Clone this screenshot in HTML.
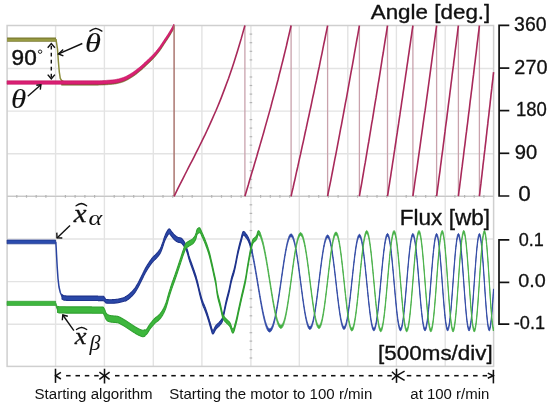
<!DOCTYPE html>
<html><head><meta charset="utf-8"><title>Angle and flux</title>
<style>html,body{margin:0;padding:0;background:#fff;overflow:hidden}svg{display:block}</style>
</head><body>
<svg width="550" height="404" viewBox="0 0 550 404">
<rect width="550" height="404" fill="#fff"/>
<g stroke="#e3e3e3" stroke-width="1.4"><line x1="55.6" y1="25.5" x2="55.6" y2="366.4"/><line x1="104.4" y1="25.5" x2="104.4" y2="366.4"/><line x1="153.3" y1="25.5" x2="153.3" y2="366.4"/><line x1="201.9" y1="25.5" x2="201.9" y2="366.4"/><line x1="250.9" y1="25.5" x2="250.9" y2="366.4"/><line x1="299.3" y1="25.5" x2="299.3" y2="366.4"/><line x1="347.8" y1="25.5" x2="347.8" y2="366.4"/><line x1="396.4" y1="25.5" x2="396.4" y2="366.4"/><line x1="445.2" y1="25.5" x2="445.2" y2="366.4"/><line x1="7.1" y1="68.5" x2="493.6" y2="68.5"/><line x1="7.1" y1="111.1" x2="493.6" y2="111.1"/><line x1="7.1" y1="153.7" x2="493.6" y2="153.7"/><line x1="7.1" y1="196.3" x2="493.6" y2="196.3"/><line x1="7.1" y1="239.0" x2="493.6" y2="239.0"/><line x1="7.1" y1="281.6" x2="493.6" y2="281.6"/><line x1="7.1" y1="324.3" x2="493.6" y2="324.3"/></g>
<rect x="7.1" y="25.5" width="486.5" height="340.9" fill="none" stroke="#cfcfcf" stroke-width="1.5"/>
<line x1="7.1" y1="196.4" x2="493.6" y2="196.4" stroke="#c8c8c8" stroke-width="1.3"/>
<g stroke="#b4b4b4" stroke-width="1.2"><line x1="16.8" y1="195.1" x2="16.8" y2="197.7"/><line x1="26.5" y1="195.1" x2="26.5" y2="197.7"/><line x1="36.2" y1="195.1" x2="36.2" y2="197.7"/><line x1="45.9" y1="195.1" x2="45.9" y2="197.7"/><line x1="65.4" y1="195.1" x2="65.4" y2="197.7"/><line x1="75.1" y1="195.1" x2="75.1" y2="197.7"/><line x1="84.9" y1="195.1" x2="84.9" y2="197.7"/><line x1="94.6" y1="195.1" x2="94.6" y2="197.7"/><line x1="114.2" y1="195.1" x2="114.2" y2="197.7"/><line x1="124.0" y1="195.1" x2="124.0" y2="197.7"/><line x1="133.7" y1="195.1" x2="133.7" y2="197.7"/><line x1="143.5" y1="195.1" x2="143.5" y2="197.7"/><line x1="163.0" y1="195.1" x2="163.0" y2="197.7"/><line x1="172.7" y1="195.1" x2="172.7" y2="197.7"/><line x1="182.5" y1="195.1" x2="182.5" y2="197.7"/><line x1="192.2" y1="195.1" x2="192.2" y2="197.7"/><line x1="211.7" y1="195.1" x2="211.7" y2="197.7"/><line x1="221.5" y1="195.1" x2="221.5" y2="197.7"/><line x1="231.3" y1="195.1" x2="231.3" y2="197.7"/><line x1="241.1" y1="195.1" x2="241.1" y2="197.7"/><line x1="260.6" y1="195.1" x2="260.6" y2="197.7"/><line x1="270.3" y1="195.1" x2="270.3" y2="197.7"/><line x1="279.9" y1="195.1" x2="279.9" y2="197.7"/><line x1="289.6" y1="195.1" x2="289.6" y2="197.7"/><line x1="309.0" y1="195.1" x2="309.0" y2="197.7"/><line x1="318.7" y1="195.1" x2="318.7" y2="197.7"/><line x1="328.4" y1="195.1" x2="328.4" y2="197.7"/><line x1="338.1" y1="195.1" x2="338.1" y2="197.7"/><line x1="357.5" y1="195.1" x2="357.5" y2="197.7"/><line x1="367.2" y1="195.1" x2="367.2" y2="197.7"/><line x1="377.0" y1="195.1" x2="377.0" y2="197.7"/><line x1="386.7" y1="195.1" x2="386.7" y2="197.7"/><line x1="406.2" y1="195.1" x2="406.2" y2="197.7"/><line x1="415.9" y1="195.1" x2="415.9" y2="197.7"/><line x1="425.7" y1="195.1" x2="425.7" y2="197.7"/><line x1="435.4" y1="195.1" x2="435.4" y2="197.7"/><line x1="454.9" y1="195.1" x2="454.9" y2="197.7"/><line x1="464.6" y1="195.1" x2="464.6" y2="197.7"/><line x1="474.2" y1="195.1" x2="474.2" y2="197.7"/><line x1="483.9" y1="195.1" x2="483.9" y2="197.7"/><line x1="249.6" y1="34.1" x2="252.2" y2="34.1"/><line x1="249.6" y1="42.7" x2="252.2" y2="42.7"/><line x1="249.6" y1="51.3" x2="252.2" y2="51.3"/><line x1="249.6" y1="59.9" x2="252.2" y2="59.9"/><line x1="249.6" y1="77.0" x2="252.2" y2="77.0"/><line x1="249.6" y1="85.5" x2="252.2" y2="85.5"/><line x1="249.6" y1="94.1" x2="252.2" y2="94.1"/><line x1="249.6" y1="102.6" x2="252.2" y2="102.6"/><line x1="249.6" y1="119.6" x2="252.2" y2="119.6"/><line x1="249.6" y1="128.1" x2="252.2" y2="128.1"/><line x1="249.6" y1="136.7" x2="252.2" y2="136.7"/><line x1="249.6" y1="145.2" x2="252.2" y2="145.2"/><line x1="249.6" y1="162.2" x2="252.2" y2="162.2"/><line x1="249.6" y1="170.7" x2="252.2" y2="170.7"/><line x1="249.6" y1="179.3" x2="252.2" y2="179.3"/><line x1="249.6" y1="187.8" x2="252.2" y2="187.8"/><line x1="249.6" y1="204.8" x2="252.2" y2="204.8"/><line x1="249.6" y1="213.4" x2="252.2" y2="213.4"/><line x1="249.6" y1="221.9" x2="252.2" y2="221.9"/><line x1="249.6" y1="230.5" x2="252.2" y2="230.5"/><line x1="249.6" y1="247.5" x2="252.2" y2="247.5"/><line x1="249.6" y1="256.0" x2="252.2" y2="256.0"/><line x1="249.6" y1="264.6" x2="252.2" y2="264.6"/><line x1="249.6" y1="273.1" x2="252.2" y2="273.1"/><line x1="249.6" y1="290.1" x2="252.2" y2="290.1"/><line x1="249.6" y1="298.7" x2="252.2" y2="298.7"/><line x1="249.6" y1="307.2" x2="252.2" y2="307.2"/><line x1="249.6" y1="315.8" x2="252.2" y2="315.8"/><line x1="249.6" y1="332.7" x2="252.2" y2="332.7"/><line x1="249.6" y1="341.1" x2="252.2" y2="341.1"/><line x1="249.6" y1="349.6" x2="252.2" y2="349.6"/><line x1="249.6" y1="358.0" x2="252.2" y2="358.0"/></g>
<line x1="7.1" y1="39.7" x2="56.0" y2="39.7" stroke="#7a7a30" stroke-width="4.2"/>
<line x1="7.1" y1="39.9" x2="56.0" y2="39.9" stroke="#979a42" stroke-width="2.2"/>
<polyline points="56.0,39.0 56.4,42.0 57.5,49.0 58.4,61.7 59.3,72.0 60.3,78.5 61.6,80.4 63.5,81.6" fill="none" stroke="#8a8c3c" stroke-width="1.5"/>
<polygon points="61.5,81.8 61.9,81.8 62.3,81.8 62.7,81.8 63.1,81.8 63.5,81.8 63.9,81.8 64.3,81.8 64.7,81.8 65.1,81.8 65.5,81.8 65.9,81.8 66.3,81.8 66.7,81.8 67.1,81.8 67.5,81.8 67.9,81.8 68.3,81.8 68.7,81.8 69.1,81.8 69.5,81.8 69.9,81.8 70.3,81.8 70.7,81.8 71.1,81.8 71.5,81.8 71.9,81.8 72.3,81.8 72.7,81.8 73.1,81.8 73.5,81.8 73.9,81.8 74.3,81.8 74.7,81.8 75.1,81.8 75.5,81.8 75.9,81.8 76.3,81.8 76.7,81.8 77.1,81.8 77.5,81.8 77.9,81.8 78.3,81.8 78.7,81.8 79.1,81.8 79.5,81.8 79.9,81.8 80.3,81.8 80.7,81.8 81.1,81.8 81.5,81.8 81.9,81.8 82.3,81.8 82.7,81.8 83.1,81.8 83.5,81.8 83.9,81.8 84.3,81.8 84.7,81.8 85.1,81.8 85.5,81.8 85.9,81.8 86.3,81.8 86.7,81.8 87.1,81.8 87.5,81.8 87.9,81.8 88.3,81.8 88.7,81.8 89.1,81.8 89.5,81.8 89.9,81.8 90.3,81.8 90.7,81.8 91.1,81.8 91.5,81.8 91.9,81.8 92.3,81.8 92.7,81.8 93.1,81.8 93.5,81.8 93.9,81.8 94.3,81.8 94.7,81.8 95.1,81.8 95.5,81.8 95.9,81.8 96.3,81.8 96.7,81.8 97.1,81.8 97.5,81.8 97.9,81.8 98.3,81.8 98.7,81.7 99.1,81.7 99.5,81.7 99.9,81.7 100.3,81.7 100.7,81.7 101.1,81.7 101.5,81.6 101.9,81.6 102.3,81.6 102.7,81.6 103.1,81.6 103.5,81.5 103.9,81.5 104.3,81.5 104.7,81.5 105.1,81.5 105.5,81.4 105.9,81.4 106.3,81.4 106.7,81.3 107.1,81.3 107.5,81.3 107.9,81.3 108.3,81.2 108.7,81.2 109.1,81.2 109.5,81.1 109.9,81.1 110.3,81.1 110.7,81.0 111.1,81.0 111.5,81.0 111.9,80.9 112.3,80.9 112.7,80.8 113.1,80.8 113.5,80.8 113.9,80.7 114.3,80.7 114.7,80.6 115.1,80.6 115.5,80.5 115.9,80.4 116.3,80.3 116.7,80.3 117.1,80.2 117.5,80.1 117.9,80.0 118.3,79.9 118.7,79.8 119.1,79.7 119.5,79.6 119.9,79.5 120.3,79.4 120.7,79.3 121.1,79.2 121.5,79.0 121.9,78.9 122.3,78.8 122.7,78.7 123.1,78.5 123.5,78.4 123.9,78.2 124.3,78.1 124.7,77.9 125.1,77.7 125.5,77.5 125.9,77.3 126.3,77.1 126.7,76.9 127.1,76.7 127.5,76.5 127.9,76.3 128.3,76.0 128.7,75.8 129.1,75.6 129.5,75.3 129.9,75.1 130.3,74.9 130.7,74.6 131.1,74.4 131.5,74.1 131.9,73.9 132.3,73.6 132.7,73.4 133.1,73.1 133.5,72.8 133.9,72.6 134.3,72.3 134.7,72.0 135.1,71.7 135.5,71.4 135.9,71.1 136.3,70.8 136.7,70.5 137.1,70.2 137.5,69.8 137.9,69.5 138.3,69.2 138.7,68.9 139.1,68.6 139.5,68.2 139.9,67.9 140.3,67.6 140.7,67.2 141.1,66.9 141.5,66.5 141.9,66.2 142.3,65.8 142.7,65.5 143.1,65.1 143.5,64.7 143.9,64.3 144.3,64.0 144.7,63.6 145.1,63.2 145.5,62.8 145.9,62.5 146.3,62.1 146.7,61.7 147.1,61.4 147.5,61.0 147.9,60.6 148.3,60.2 148.7,59.9 149.1,59.5 149.5,59.1 149.9,58.7 150.3,58.3 150.7,58.0 151.1,57.6 151.5,57.2 151.9,56.8 152.3,56.4 152.7,55.9 153.1,55.5 153.5,55.1 153.9,54.7 154.3,54.2 154.7,53.8 155.1,53.3 155.5,52.9 155.9,52.4 156.3,51.9 156.7,51.4 157.1,50.9 157.5,50.4 157.9,49.9 158.3,49.4 158.7,48.9 159.1,48.4 159.5,47.9 159.9,47.3 160.3,46.8 160.7,46.2 161.1,45.6 161.5,45.0 161.9,44.4 162.3,43.8 162.7,43.2 163.1,42.5 163.5,41.9 163.9,41.3 164.3,40.7 164.7,40.1 165.1,39.5 165.5,38.9 165.9,38.3 166.3,37.7 166.7,37.1 167.1,36.5 167.5,35.9 167.9,35.3 168.3,34.7 168.7,34.1 169.1,33.4 169.5,32.8 169.9,32.1 170.3,31.5 170.7,30.8 171.1,30.1 171.5,29.4 171.9,28.7 172.3,28.0 172.7,27.3 173.1,26.6 173.5,25.8 173.9,25.1 173.9,28.5 173.5,29.2 173.1,30.0 172.7,30.7 172.3,31.4 171.9,32.1 171.5,32.8 171.1,33.5 170.7,34.2 170.3,34.9 169.9,35.5 169.5,36.2 169.1,36.8 168.7,37.5 168.3,38.1 167.9,38.7 167.5,39.3 167.1,39.9 166.7,40.5 166.3,41.1 165.9,41.7 165.5,42.3 165.1,42.9 164.7,43.5 164.3,44.1 163.9,44.7 163.5,45.3 163.1,45.9 162.7,46.6 162.3,47.2 161.9,47.8 161.5,48.4 161.1,49.0 160.7,49.6 160.3,50.2 159.9,50.7 159.5,51.3 159.1,51.8 158.7,52.3 158.3,52.8 157.9,53.3 157.5,53.8 157.1,54.3 156.7,54.8 156.3,55.3 155.9,55.8 155.5,56.3 155.1,56.7 154.7,57.2 154.3,57.6 153.9,58.1 153.5,58.5 153.1,58.9 152.7,59.3 152.3,59.8 151.9,60.2 151.5,60.6 151.1,61.0 150.7,61.4 150.3,61.7 149.9,62.1 149.5,62.5 149.1,62.9 148.7,63.3 148.3,63.6 147.9,64.0 147.5,64.4 147.1,64.8 146.7,65.1 146.3,65.5 145.9,65.9 145.5,66.2 145.1,66.6 144.7,67.0 144.3,67.4 143.9,67.7 143.5,68.1 143.1,68.5 142.7,68.9 142.3,69.2 141.9,69.6 141.5,69.9 141.1,70.3 140.7,70.6 140.3,71.0 139.9,71.3 139.5,71.6 139.1,72.0 138.7,72.3 138.3,72.6 137.9,72.9 137.5,73.2 137.1,73.6 136.7,73.9 136.3,74.2 135.9,74.5 135.5,74.8 135.1,75.1 134.7,75.4 134.3,75.7 133.9,76.0 133.5,76.2 133.1,76.5 132.7,76.8 132.3,77.0 131.9,77.3 131.5,77.5 131.1,77.8 130.7,78.0 130.3,78.3 129.9,78.5 129.5,78.7 129.1,79.0 128.7,79.2 128.3,79.4 127.9,79.7 127.5,79.9 127.1,80.1 126.7,80.3 126.3,80.5 125.9,80.7 125.5,80.9 125.1,81.1 124.7,81.3 124.3,81.5 123.9,81.6 123.5,81.8 123.1,81.9 122.7,82.1 122.3,82.2 121.9,82.3 121.5,82.4 121.1,82.6 120.7,82.7 120.3,82.8 119.9,82.9 119.5,83.0 119.1,83.1 118.7,83.2 118.3,83.3 117.9,83.4 117.5,83.5 117.1,83.6 116.7,83.7 116.3,83.7 115.9,83.8 115.5,83.9 115.1,84.0 114.7,84.0 114.3,84.1 113.9,84.1 113.5,84.2 113.1,84.2 112.7,84.2 112.3,84.3 111.9,84.3 111.5,84.4 111.1,84.4 110.7,84.4 110.3,84.5 109.9,84.5 109.5,84.5 109.1,84.6 108.7,84.6 108.3,84.6 107.9,84.7 107.5,84.7 107.1,84.7 106.7,84.7 106.3,84.8 105.9,84.8 105.5,84.8 105.1,84.9 104.7,84.9 104.3,84.9 103.9,84.9 103.5,84.9 103.1,85.0 102.7,85.0 102.3,85.0 101.9,85.0 101.5,85.0 101.1,85.1 100.7,85.1 100.3,85.1 99.9,85.1 99.5,85.1 99.1,85.1 98.7,85.1 98.3,85.2 97.9,85.2 97.5,85.2 97.1,85.2 96.7,85.2 96.3,85.2 95.9,85.2 95.5,85.2 95.1,85.2 94.7,85.2 94.3,85.2 93.9,85.2 93.5,85.2 93.1,85.2 92.7,85.2 92.3,85.2 91.9,85.2 91.5,85.2 91.1,85.2 90.7,85.2 90.3,85.2 89.9,85.2 89.5,85.2 89.1,85.2 88.7,85.2 88.3,85.2 87.9,85.2 87.5,85.2 87.1,85.2 86.7,85.2 86.3,85.2 85.9,85.2 85.5,85.2 85.1,85.2 84.7,85.2 84.3,85.2 83.9,85.2 83.5,85.2 83.1,85.2 82.7,85.2 82.3,85.2 81.9,85.2 81.5,85.2 81.1,85.2 80.7,85.2 80.3,85.2 79.9,85.2 79.5,85.2 79.1,85.2 78.7,85.2 78.3,85.2 77.9,85.2 77.5,85.2 77.1,85.2 76.7,85.2 76.3,85.2 75.9,85.2 75.5,85.2 75.1,85.2 74.7,85.2 74.3,85.2 73.9,85.2 73.5,85.2 73.1,85.2 72.7,85.2 72.3,85.2 71.9,85.2 71.5,85.2 71.1,85.2 70.7,85.2 70.3,85.2 69.9,85.2 69.5,85.2 69.1,85.2 68.7,85.2 68.3,85.2 67.9,85.2 67.5,85.2 67.1,85.2 66.7,85.2 66.3,85.2 65.9,85.2 65.5,85.2 65.1,85.2 64.7,85.2 64.3,85.2 63.9,85.2 63.5,85.2 63.1,85.2 62.7,85.2 62.3,85.2 61.9,85.2 61.5,85.2" fill="#75742e" stroke="#75742e" stroke-width="0.6"/>
<polygon points="7.1,80.8 7.5,80.8 7.9,80.8 8.3,80.8 8.7,80.8 9.1,80.8 9.5,80.8 9.9,80.8 10.3,80.8 10.7,80.8 11.1,80.8 11.5,80.8 11.9,80.8 12.3,80.8 12.7,80.8 13.1,80.8 13.5,80.8 13.9,80.8 14.3,80.8 14.7,80.8 15.1,80.8 15.5,80.8 15.9,80.8 16.3,80.8 16.7,80.8 17.1,80.8 17.5,80.8 17.9,80.8 18.3,80.8 18.7,80.8 19.1,80.8 19.5,80.8 19.9,80.8 20.3,80.8 20.7,80.8 21.1,80.8 21.5,80.8 21.9,80.8 22.3,80.8 22.7,80.8 23.1,80.8 23.5,80.8 23.9,80.8 24.3,80.8 24.7,80.8 25.1,80.8 25.5,80.8 25.9,80.8 26.3,80.8 26.7,80.8 27.1,80.8 27.5,80.8 27.9,80.8 28.3,80.8 28.7,80.8 29.1,80.8 29.5,80.8 29.9,80.8 30.3,80.8 30.7,80.8 31.1,80.8 31.5,80.8 31.9,80.8 32.3,80.8 32.7,80.8 33.1,80.8 33.5,80.8 33.9,80.8 34.3,80.8 34.7,80.8 35.1,80.8 35.5,80.8 35.9,80.8 36.3,80.8 36.7,80.8 37.1,80.8 37.5,80.8 37.9,80.8 38.3,80.8 38.7,80.8 39.1,80.8 39.5,80.8 39.9,80.8 40.3,80.8 40.7,80.8 41.1,80.8 41.5,80.8 41.9,80.8 42.3,80.8 42.7,80.8 43.1,80.8 43.5,80.8 43.9,80.8 44.3,80.8 44.7,80.8 45.1,80.8 45.5,80.8 45.9,80.8 46.3,80.8 46.7,80.8 47.1,80.8 47.5,80.8 47.9,80.8 48.3,80.8 48.7,80.8 49.1,80.8 49.5,80.8 49.9,80.8 50.3,80.8 50.7,80.8 51.1,80.8 51.5,80.8 51.9,80.8 52.3,80.8 52.7,80.8 53.1,80.8 53.5,80.8 53.9,80.8 54.3,80.8 54.7,80.8 55.1,80.8 55.5,80.8 55.9,80.8 56.3,80.8 56.7,80.8 57.1,80.8 57.5,80.8 57.9,80.8 58.3,80.8 58.7,80.8 59.1,80.8 59.5,80.8 59.9,80.8 60.3,80.8 60.7,80.8 61.1,80.8 61.5,80.8 61.9,80.8 62.3,80.8 62.7,80.8 63.1,80.8 63.5,80.8 63.9,80.8 64.3,80.8 64.7,80.8 65.1,80.8 65.5,80.8 65.9,80.8 66.3,80.8 66.7,80.8 67.1,80.8 67.5,80.8 67.9,80.8 68.3,80.8 68.7,80.8 69.1,80.8 69.5,80.8 69.9,80.8 70.3,80.8 70.7,80.8 71.1,80.8 71.5,80.8 71.9,80.8 72.3,80.8 72.7,80.8 73.1,80.8 73.5,80.8 73.9,80.8 74.3,80.8 74.7,80.8 75.1,80.8 75.5,80.8 75.9,80.8 76.3,80.8 76.7,80.8 77.1,80.8 77.5,80.8 77.9,80.8 78.3,80.8 78.7,80.8 79.1,80.8 79.5,80.8 79.9,80.8 80.3,80.8 80.7,80.8 81.1,80.8 81.5,80.8 81.9,80.8 82.3,80.8 82.7,80.8 83.1,80.8 83.5,80.8 83.9,80.8 84.3,80.8 84.7,80.8 85.1,80.8 85.5,80.8 85.9,80.8 86.3,80.8 86.7,80.8 87.1,80.8 87.5,80.8 87.9,80.8 88.3,80.8 88.7,80.8 89.1,80.8 89.5,80.8 89.9,80.8 90.3,80.8 90.7,80.8 91.1,80.8 91.5,80.8 91.9,80.8 92.3,80.8 92.7,80.8 93.1,80.8 93.5,80.8 93.9,80.8 94.3,80.8 94.7,80.8 95.1,80.8 95.5,80.8 95.9,80.8 96.3,80.8 96.7,80.8 97.1,80.8 97.5,80.8 97.9,80.8 98.3,80.8 98.7,80.8 99.1,80.8 99.5,80.8 99.9,80.8 100.3,80.7 100.7,80.7 101.1,80.7 101.5,80.7 101.9,80.7 102.3,80.7 102.7,80.6 103.1,80.6 103.5,80.6 103.9,80.6 104.3,80.6 104.7,80.5 105.1,80.5 105.5,80.5 105.9,80.5 106.3,80.4 106.7,80.4 107.1,80.4 107.5,80.3 107.9,80.3 108.3,80.3 108.7,80.2 109.1,80.2 109.5,80.2 109.9,80.1 110.3,80.1 110.7,80.1 111.1,80.0 111.5,80.0 111.9,80.0 112.3,79.9 112.7,79.9 113.1,79.9 113.5,79.8 113.9,79.8 114.3,79.7 114.7,79.7 115.1,79.6 115.5,79.5 115.9,79.5 116.3,79.4 116.7,79.3 117.1,79.2 117.5,79.1 117.9,79.1 118.3,79.0 118.7,78.9 119.1,78.8 119.5,78.7 119.9,78.5 120.3,78.4 120.7,78.3 121.1,78.2 121.5,78.1 121.9,78.0 122.3,77.8 122.7,77.7 123.1,77.6 123.5,77.4 123.9,77.3 124.3,77.1 124.7,76.9 125.1,76.8 125.5,76.6 125.9,76.4 126.3,76.2 126.7,76.0 127.1,75.8 127.5,75.5 127.9,75.3 128.3,75.1 128.7,74.9 129.1,74.6 129.5,74.4 129.9,74.2 130.3,73.9 130.7,73.7 131.1,73.4 131.5,73.2 131.9,72.9 132.3,72.7 132.7,72.4 133.1,72.2 133.5,71.9 133.9,71.6 134.3,71.3 134.7,71.0 135.1,70.7 135.5,70.4 135.9,70.1 136.3,69.8 136.7,69.5 137.1,69.2 137.5,68.9 137.9,68.6 138.3,68.3 138.7,67.9 139.1,67.6 139.5,67.3 139.9,66.9 140.3,66.6 140.7,66.3 141.1,65.9 141.5,65.6 141.9,65.2 142.3,64.9 142.7,64.5 143.1,64.1 143.5,63.8 143.9,63.4 144.3,63.0 144.7,62.6 145.1,62.3 145.5,61.9 145.9,61.5 146.3,61.1 146.7,60.8 147.1,60.4 147.5,60.0 147.9,59.7 148.3,59.3 148.7,58.9 149.1,58.5 149.5,58.2 149.9,57.8 150.3,57.4 150.7,57.0 151.1,56.6 151.5,56.2 151.9,55.8 152.3,55.4 152.7,55.0 153.1,54.6 153.5,54.1 153.9,53.7 154.3,53.3 154.7,52.8 155.1,52.4 155.5,51.9 155.9,51.4 156.3,51.0 156.7,50.5 157.1,50.0 157.5,49.5 157.9,49.0 158.3,48.5 158.7,48.0 159.1,47.4 159.5,46.9 159.9,46.4 160.3,45.8 160.7,45.2 161.1,44.6 161.5,44.0 161.9,43.4 162.3,42.8 162.7,42.2 163.1,41.6 163.5,41.0 163.9,40.4 164.3,39.8 164.7,39.1 165.1,38.6 165.5,38.0 165.9,37.4 166.3,36.8 166.7,36.2 167.1,35.6 167.5,35.0 167.9,34.4 168.3,33.8 168.7,33.1 169.1,32.5 169.5,31.8 169.9,31.2 170.3,30.5 170.7,29.8 171.1,29.2 171.5,28.5 171.9,27.8 172.3,27.1 172.7,26.3 173.1,25.6 173.5,24.9 173.9,24.1 173.9,27.6 173.5,28.4 173.1,29.1 172.7,29.8 172.3,30.6 171.9,31.3 171.5,32.0 171.1,32.7 170.7,33.3 170.3,34.0 169.9,34.7 169.5,35.3 169.1,36.0 168.7,36.6 168.3,37.3 167.9,37.9 167.5,38.5 167.1,39.1 166.7,39.7 166.3,40.3 165.9,40.9 165.5,41.5 165.1,42.1 164.7,42.6 164.3,43.3 163.9,43.9 163.5,44.5 163.1,45.1 162.7,45.7 162.3,46.3 161.9,46.9 161.5,47.5 161.1,48.1 160.7,48.7 160.3,49.3 159.9,49.9 159.5,50.4 159.1,50.9 158.7,51.5 158.3,52.0 157.9,52.5 157.5,53.0 157.1,53.5 156.7,54.0 156.3,54.5 155.9,54.9 155.5,55.4 155.1,55.9 154.7,56.3 154.3,56.8 153.9,57.2 153.5,57.6 153.1,58.1 152.7,58.5 152.3,58.9 151.9,59.3 151.5,59.7 151.1,60.1 150.7,60.5 150.3,60.9 149.9,61.3 149.5,61.7 149.1,62.0 148.7,62.4 148.3,62.8 147.9,63.2 147.5,63.5 147.1,63.9 146.7,64.3 146.3,64.6 145.9,65.0 145.5,65.4 145.1,65.8 144.7,66.1 144.3,66.5 143.9,66.9 143.5,67.3 143.1,67.6 142.7,68.0 142.3,68.4 141.9,68.7 141.5,69.1 141.1,69.4 140.7,69.8 140.3,70.1 139.9,70.4 139.5,70.8 139.1,71.1 138.7,71.4 138.3,71.8 137.9,72.1 137.5,72.4 137.1,72.7 136.7,73.0 136.3,73.3 135.9,73.6 135.5,73.9 135.1,74.2 134.7,74.5 134.3,74.8 133.9,75.1 133.5,75.4 133.1,75.7 132.7,75.9 132.3,76.2 131.9,76.4 131.5,76.7 131.1,76.9 130.7,77.2 130.3,77.4 129.9,77.7 129.5,77.9 129.1,78.1 128.7,78.4 128.3,78.6 127.9,78.8 127.5,79.0 127.1,79.3 126.7,79.5 126.3,79.7 125.9,79.9 125.5,80.1 125.1,80.3 124.7,80.4 124.3,80.6 123.9,80.8 123.5,80.9 123.1,81.1 122.7,81.2 122.3,81.3 121.9,81.5 121.5,81.6 121.1,81.7 120.7,81.8 120.3,81.9 119.9,82.0 119.5,82.2 119.1,82.3 118.7,82.4 118.3,82.5 117.9,82.6 117.5,82.6 117.1,82.7 116.7,82.8 116.3,82.9 115.9,83.0 115.5,83.0 115.1,83.1 114.7,83.2 114.3,83.2 113.9,83.3 113.5,83.3 113.1,83.4 112.7,83.4 112.3,83.4 111.9,83.5 111.5,83.5 111.1,83.5 110.7,83.6 110.3,83.6 109.9,83.6 109.5,83.7 109.1,83.7 108.7,83.7 108.3,83.8 107.9,83.8 107.5,83.8 107.1,83.9 106.7,83.9 106.3,83.9 105.9,84.0 105.5,84.0 105.1,84.0 104.7,84.0 104.3,84.1 103.9,84.1 103.5,84.1 103.1,84.1 102.7,84.1 102.3,84.2 101.9,84.2 101.5,84.2 101.1,84.2 100.7,84.2 100.3,84.2 99.9,84.3 99.5,84.3 99.1,84.3 98.7,84.3 98.3,84.3 97.9,84.3 97.5,84.3 97.1,84.3 96.7,84.3 96.3,84.3 95.9,84.3 95.5,84.3 95.1,84.3 94.7,84.3 94.3,84.3 93.9,84.3 93.5,84.3 93.1,84.3 92.7,84.3 92.3,84.3 91.9,84.3 91.5,84.3 91.1,84.3 90.7,84.3 90.3,84.3 89.9,84.3 89.5,84.3 89.1,84.3 88.7,84.3 88.3,84.3 87.9,84.3 87.5,84.3 87.1,84.3 86.7,84.3 86.3,84.3 85.9,84.3 85.5,84.3 85.1,84.3 84.7,84.3 84.3,84.3 83.9,84.3 83.5,84.3 83.1,84.3 82.7,84.3 82.3,84.3 81.9,84.3 81.5,84.3 81.1,84.3 80.7,84.3 80.3,84.3 79.9,84.3 79.5,84.3 79.1,84.3 78.7,84.3 78.3,84.3 77.9,84.3 77.5,84.3 77.1,84.3 76.7,84.3 76.3,84.3 75.9,84.3 75.5,84.3 75.1,84.3 74.7,84.3 74.3,84.3 73.9,84.3 73.5,84.3 73.1,84.3 72.7,84.3 72.3,84.3 71.9,84.3 71.5,84.3 71.1,84.3 70.7,84.3 70.3,84.3 69.9,84.3 69.5,84.3 69.1,84.3 68.7,84.3 68.3,84.3 67.9,84.3 67.5,84.3 67.1,84.3 66.7,84.3 66.3,84.3 65.9,84.3 65.5,84.3 65.1,84.3 64.7,84.3 64.3,84.3 63.9,84.3 63.5,84.3 63.1,84.3 62.7,84.3 62.3,84.3 61.9,84.3 61.5,84.3 61.1,84.3 60.7,84.3 60.3,84.3 59.9,84.3 59.5,84.3 59.1,84.3 58.7,84.3 58.3,84.3 57.9,84.3 57.5,84.3 57.1,84.3 56.7,84.3 56.3,84.3 55.9,84.3 55.5,84.3 55.1,84.3 54.7,84.3 54.3,84.3 53.9,84.3 53.5,84.3 53.1,84.3 52.7,84.3 52.3,84.3 51.9,84.3 51.5,84.3 51.1,84.3 50.7,84.3 50.3,84.3 49.9,84.3 49.5,84.3 49.1,84.3 48.7,84.3 48.3,84.3 47.9,84.3 47.5,84.3 47.1,84.3 46.7,84.3 46.3,84.3 45.9,84.3 45.5,84.3 45.1,84.3 44.7,84.3 44.3,84.3 43.9,84.3 43.5,84.3 43.1,84.3 42.7,84.3 42.3,84.3 41.9,84.3 41.5,84.3 41.1,84.3 40.7,84.3 40.3,84.3 39.9,84.3 39.5,84.3 39.1,84.3 38.7,84.3 38.3,84.3 37.9,84.3 37.5,84.3 37.1,84.3 36.7,84.3 36.3,84.3 35.9,84.3 35.5,84.3 35.1,84.3 34.7,84.3 34.3,84.3 33.9,84.3 33.5,84.3 33.1,84.3 32.7,84.3 32.3,84.3 31.9,84.3 31.5,84.3 31.1,84.3 30.7,84.3 30.3,84.3 29.9,84.3 29.5,84.3 29.1,84.3 28.7,84.3 28.3,84.3 27.9,84.3 27.5,84.3 27.1,84.3 26.7,84.3 26.3,84.3 25.9,84.3 25.5,84.3 25.1,84.3 24.7,84.3 24.3,84.3 23.9,84.3 23.5,84.3 23.1,84.3 22.7,84.3 22.3,84.3 21.9,84.3 21.5,84.3 21.1,84.3 20.7,84.3 20.3,84.3 19.9,84.3 19.5,84.3 19.1,84.3 18.7,84.3 18.3,84.3 17.9,84.3 17.5,84.3 17.1,84.3 16.7,84.3 16.3,84.3 15.9,84.3 15.5,84.3 15.1,84.3 14.7,84.3 14.3,84.3 13.9,84.3 13.5,84.3 13.1,84.3 12.7,84.3 12.3,84.3 11.9,84.3 11.5,84.3 11.1,84.3 10.7,84.3 10.3,84.3 9.9,84.3 9.5,84.3 9.1,84.3 8.7,84.3 8.3,84.3 7.9,84.3 7.5,84.3 7.1,84.3" fill="#da2074" stroke="#c21b62" stroke-width="0.7" stroke-linejoin="round"/>
<g stroke="#c9a2ac" stroke-width="1.3"><line x1="244.9" y1="25.5" x2="244.9" y2="196.3"/><line x1="291.1" y1="25.5" x2="291.1" y2="196.3"/><line x1="327.6" y1="25.5" x2="327.6" y2="196.3"/><line x1="359.4" y1="25.5" x2="359.4" y2="196.3"/><line x1="387.5" y1="25.5" x2="387.5" y2="196.3"/><line x1="412.9" y1="25.5" x2="412.9" y2="196.3"/><line x1="436.6" y1="25.5" x2="436.6" y2="196.3"/><line x1="458.4" y1="25.5" x2="458.4" y2="196.3"/><line x1="479.4" y1="25.5" x2="479.4" y2="196.3"/></g>
<line x1="174.1" y1="25.5" x2="174.1" y2="196.3" stroke="#ab7670" stroke-width="1.5"/>
<polyline points="174.1,196.3 175.9,192.7 177.7,188.9 179.6,185.2 181.4,181.6 183.2,178.1 185.0,174.5 186.8,171.0 188.6,167.4 190.4,163.9 192.3,160.3 194.1,156.8 195.9,153.2 197.7,149.6 199.5,146.0 201.3,142.3 203.1,138.6 205.0,134.9 206.8,131.0 208.6,127.2 210.4,123.2 212.2,119.2 214.0,115.0 215.9,110.8 217.7,106.5 219.5,102.1 221.3,97.6 223.1,92.9 224.9,88.1 226.7,83.2 228.6,78.2 230.4,73.0 232.2,67.7 234.0,62.2 235.8,56.5 237.6,50.7 239.4,44.7 241.3,38.4 243.1,31.9 244.9,25.5" fill="none" stroke="#a8295a" stroke-width="1.6"/>
<polyline points="244.9,196.3 246.1,192.2 247.3,188.3 248.5,184.3 249.6,180.3 250.8,176.3 252.0,172.3 253.2,168.4 254.4,164.3 255.6,160.3 256.8,156.3 257.9,152.2 259.1,148.2 260.3,144.1 261.5,140.0 262.7,135.9 263.9,131.7 265.0,127.6 266.2,123.4 267.4,119.1 268.6,114.9 269.8,110.6 271.0,106.3 272.1,101.9 273.3,97.5 274.5,93.1 275.7,88.6 276.9,84.0 278.1,79.5 279.2,74.8 280.4,70.2 281.6,65.4 282.8,60.7 284.0,55.8 285.2,50.9 286.4,46.0 287.5,41.0 288.7,35.9 289.9,30.7 291.1,25.5" fill="none" stroke="#a8295a" stroke-width="1.6"/>
<polyline points="291.1,196.3 292.0,192.1 293.0,188.0 293.9,183.8 294.9,179.6 295.8,175.4 296.7,171.2 297.7,167.0 298.6,162.8 299.5,158.6 300.5,154.4 301.4,150.1 302.3,145.9 303.3,141.6 304.2,137.3 305.1,133.0 306.1,128.7 307.0,124.4 307.9,120.1 308.9,115.7 309.8,111.4 310.8,107.0 311.7,102.6 312.6,98.2 313.6,93.8 314.5,89.4 315.4,84.9 316.4,80.5 317.3,76.0 318.2,71.5 319.2,67.0 320.1,62.4 321.0,57.9 322.0,53.3 322.9,48.7 323.8,44.1 324.8,39.5 325.7,34.9 326.7,30.2 327.6,25.6" fill="none" stroke="#a8295a" stroke-width="1.6"/>
<polyline points="327.6,196.2 328.4,192.2 329.2,188.1 330.1,183.9 330.9,179.8 331.7,175.6 332.5,171.5 333.3,167.3 334.1,163.1 334.9,158.9 335.8,154.6 336.6,150.4 337.4,146.1 338.2,141.9 339.0,137.6 339.8,133.3 340.6,128.9 341.5,124.6 342.3,120.2 343.1,115.9 343.9,111.5 344.7,107.1 345.5,102.7 346.4,98.3 347.2,93.8 348.0,89.4 348.8,84.9 349.6,80.4 350.4,75.9 351.2,71.4 352.1,66.9 352.9,62.4 353.7,57.8 354.5,53.2 355.3,48.7 356.1,44.1 356.9,39.5 357.8,34.8 358.6,30.2 359.4,25.6" fill="none" stroke="#a8295a" stroke-width="1.6"/>
<polyline points="359.4,196.2 360.1,192.1 360.8,188.0 361.6,183.8 362.3,179.7 363.0,175.5 363.7,171.3 364.4,167.1 365.2,162.9 365.9,158.6 366.6,154.4 367.3,150.1 368.0,145.8 368.8,141.5 369.5,137.2 370.2,132.9 370.9,128.6 371.6,124.2 372.4,119.9 373.1,115.5 373.8,111.1 374.5,106.7 375.2,102.3 376.0,97.9 376.7,93.4 377.4,89.0 378.1,84.5 378.9,80.0 379.6,75.6 380.3,71.1 381.0,66.6 381.7,62.1 382.4,57.5 383.2,53.0 383.9,48.4 384.6,43.9 385.3,39.3 386.1,34.7 386.8,30.2 387.5,25.6" fill="none" stroke="#a8295a" stroke-width="1.6"/>
<polyline points="387.5,196.2 388.2,192.1 388.8,187.9 389.5,183.7 390.1,179.5 390.8,175.3 391.4,171.0 392.1,166.8 392.7,162.5 393.4,158.3 394.0,154.0 394.7,149.7 395.3,145.4 396.0,141.0 396.6,136.7 397.3,132.4 397.9,128.0 398.6,123.7 399.2,119.3 399.9,114.9 400.5,110.5 401.2,106.1 401.8,101.7 402.5,97.3 403.1,92.9 403.8,88.4 404.4,84.0 405.1,79.5 405.7,75.1 406.4,70.6 407.0,66.1 407.7,61.6 408.3,57.1 409.0,52.7 409.6,48.2 410.3,43.6 410.9,39.1 411.6,34.6 412.2,30.1 412.9,25.6" fill="none" stroke="#a8295a" stroke-width="1.6"/>
<polyline points="412.9,196.2 413.5,192.0 414.1,187.8 414.7,183.5 415.3,179.3 415.9,175.0 416.6,170.8 417.2,166.5 417.8,162.2 418.4,157.9 419.0,153.7 419.6,149.4 420.2,145.1 420.8,140.7 421.4,136.4 422.0,132.1 422.6,127.8 423.2,123.4 423.8,119.1 424.4,114.7 425.1,110.4 425.7,106.0 426.3,101.6 426.9,97.2 427.5,92.8 428.1,88.4 428.7,84.0 429.3,79.5 429.9,75.1 430.5,70.6 431.1,66.2 431.7,61.7 432.3,57.2 432.9,52.7 433.6,48.2 434.2,43.7 434.8,39.2 435.4,34.7 436.0,30.1 436.6,25.6" fill="none" stroke="#a8295a" stroke-width="1.6"/>
<polyline points="436.6,196.2 437.2,192.0 437.7,187.8 438.3,183.6 438.8,179.3 439.4,175.1 440.0,170.8 440.5,166.5 441.1,162.2 441.6,157.9 442.2,153.6 442.8,149.3 443.3,145.0 443.9,140.6 444.4,136.3 445.0,131.9 445.5,127.5 446.1,123.2 446.7,118.8 447.2,114.4 447.8,110.0 448.3,105.6 448.9,101.2 449.5,96.7 450.0,92.3 450.6,87.9 451.1,83.5 451.7,79.0 452.2,74.6 452.8,70.1 453.4,65.7 453.9,61.2 454.5,56.8 455.0,52.3 455.6,47.9 456.2,43.4 456.7,39.0 457.3,34.5 457.8,30.0 458.4,25.6" fill="none" stroke="#a8295a" stroke-width="1.6"/>
<polyline points="458.4,196.2 458.9,191.9 459.5,187.6 460.0,183.3 460.6,179.0 461.1,174.7 461.6,170.5 462.2,166.2 462.7,161.9 463.3,157.5 463.8,153.2 464.3,148.9 464.9,144.6 465.4,140.3 465.9,136.0 466.5,131.7 467.0,127.3 467.6,123.0 468.1,118.7 468.6,114.3 469.2,110.0 469.7,105.6 470.2,101.2 470.8,96.9 471.3,92.5 471.9,88.1 472.4,83.7 472.9,79.3 473.5,74.9 474.0,70.4 474.5,66.0 475.1,61.6 475.6,57.1 476.2,52.6 476.7,48.2 477.2,43.7 477.8,39.2 478.3,34.7 478.9,30.1 479.4,25.6" fill="none" stroke="#a8295a" stroke-width="1.6"/>
<polyline points="479.4,196.2 479.8,193.1 480.1,190.1 480.5,187.0 480.9,183.9 481.2,180.8 481.6,177.7 482.0,174.5 482.3,171.4 482.7,168.3 483.0,165.2 483.4,162.0 483.8,158.9 484.1,155.7 484.5,152.6 484.9,149.4 485.2,146.3 485.6,143.1 486.0,139.9 486.3,136.7 486.7,133.5 487.0,130.3 487.4,127.1 487.8,123.9 488.1,120.7 488.5,117.5 488.9,114.3 489.2,111.1 489.6,107.9 490.0,104.6 490.3,101.4 490.7,98.2 491.0,94.9 491.4,91.7 491.8,88.4 492.1,85.2 492.5,81.9 492.9,78.6 493.2,75.4 493.6,72.1" fill="none" stroke="#a8295a" stroke-width="1.6"/>
<polygon points="7.1,240.0 7.6,240.0 8.1,240.0 8.6,240.0 9.1,240.0 9.6,240.0 10.1,240.0 10.6,240.0 11.1,240.0 11.6,240.0 12.1,240.0 12.6,240.0 13.1,240.0 13.6,240.0 14.1,240.0 14.6,240.0 15.1,240.0 15.6,240.0 16.1,240.0 16.6,240.0 17.1,240.0 17.6,240.0 18.1,240.0 18.6,240.0 19.1,240.0 19.6,240.0 20.1,240.0 20.6,240.0 21.1,240.0 21.6,240.0 22.1,240.0 22.6,240.0 23.1,240.0 23.6,240.0 24.1,240.0 24.6,240.0 25.1,240.0 25.6,240.0 26.1,240.0 26.6,240.0 27.1,240.0 27.6,240.0 28.1,240.0 28.6,240.0 29.1,240.0 29.6,240.0 30.1,240.0 30.6,240.0 31.1,240.0 31.6,240.0 32.1,240.0 32.6,240.0 33.1,240.0 33.6,240.0 34.1,240.0 34.6,240.0 35.1,240.0 35.6,240.0 36.1,240.0 36.6,240.0 37.1,240.0 37.6,240.0 38.1,240.0 38.6,240.0 39.1,240.0 39.6,240.0 40.1,240.0 40.6,240.0 41.1,240.0 41.6,240.0 42.1,240.0 42.6,240.0 43.1,240.0 43.6,240.0 44.1,240.0 44.6,240.0 45.1,240.0 45.6,240.0 46.1,240.0 46.6,240.0 47.1,240.0 47.6,240.0 48.1,240.0 48.6,240.0 49.1,240.0 49.6,240.0 50.1,240.0 50.6,240.0 51.1,240.0 51.6,240.0 52.1,240.0 52.6,240.0 53.1,240.0 53.6,240.0 54.1,240.0 54.6,240.0 55.1,240.0 55.6,240.0 55.6,243.8 55.1,243.8 54.6,243.8 54.1,243.8 53.6,243.8 53.1,243.8 52.6,243.8 52.1,243.8 51.6,243.8 51.1,243.8 50.6,243.8 50.1,243.8 49.6,243.8 49.1,243.8 48.6,243.8 48.1,243.8 47.6,243.8 47.1,243.8 46.6,243.8 46.1,243.8 45.6,243.8 45.1,243.8 44.6,243.8 44.1,243.8 43.6,243.8 43.1,243.8 42.6,243.8 42.1,243.8 41.6,243.8 41.1,243.8 40.6,243.8 40.1,243.8 39.6,243.8 39.1,243.8 38.6,243.8 38.1,243.8 37.6,243.8 37.1,243.8 36.6,243.8 36.1,243.8 35.6,243.8 35.1,243.8 34.6,243.8 34.1,243.8 33.6,243.8 33.1,243.8 32.6,243.8 32.1,243.8 31.6,243.8 31.1,243.8 30.6,243.8 30.1,243.8 29.6,243.8 29.1,243.8 28.6,243.8 28.1,243.8 27.6,243.8 27.1,243.8 26.6,243.8 26.1,243.8 25.6,243.8 25.1,243.8 24.6,243.8 24.1,243.8 23.6,243.8 23.1,243.8 22.6,243.8 22.1,243.8 21.6,243.8 21.1,243.8 20.6,243.8 20.1,243.8 19.6,243.8 19.1,243.8 18.6,243.8 18.1,243.8 17.6,243.8 17.1,243.8 16.6,243.8 16.1,243.8 15.6,243.8 15.1,243.8 14.6,243.8 14.1,243.8 13.6,243.8 13.1,243.8 12.6,243.8 12.1,243.8 11.6,243.8 11.1,243.8 10.6,243.8 10.1,243.8 9.6,243.8 9.1,243.8 8.6,243.8 8.1,243.8 7.6,243.8 7.1,243.8" fill="#2b4cae" stroke="#1e3289" stroke-width="0.8" stroke-linejoin="round"/>
<polyline points="55.8,241.9 56.2,248.0 56.6,256.0 57.2,267.0 58.0,278.5 59.0,287.0 60.3,292.5 62.0,296.3 63.0,297.0" fill="none" stroke="#2a44a0" stroke-width="1.5"/>
<polygon points="62.0,294.6 62.3,294.8 62.6,295.0 62.9,295.2 63.2,295.4 63.5,295.6 63.8,295.7 64.1,295.7 64.4,295.8 64.7,295.8 65.0,295.8 65.3,295.9 65.6,295.9 65.9,295.9 66.2,295.9 66.5,296.0 66.8,296.0 67.1,296.0 67.4,296.0 67.7,296.0 68.0,296.1 68.3,296.1 68.6,296.1 68.9,296.1 69.2,296.1 69.5,296.1 69.8,296.1 70.1,296.1 70.4,296.1 70.7,296.1 71.0,296.1 71.3,296.1 71.6,296.1 71.9,296.1 72.2,296.1 72.5,296.1 72.8,296.1 73.1,296.1 73.4,296.1 73.7,296.1 74.0,296.1 74.3,296.1 74.6,296.1 74.9,296.1 75.2,296.1 75.5,296.1 75.8,296.1 76.1,296.1 76.4,296.1 76.7,296.1 77.0,296.1 77.3,296.1 77.6,296.1 77.9,296.1 78.2,296.1 78.5,296.1 78.8,296.1 79.1,296.1 79.4,296.1 79.7,296.1 80.0,296.1 80.3,296.1 80.6,296.1 80.9,296.1 81.2,296.1 81.5,296.1 81.8,296.1 82.1,296.1 82.4,296.1 82.7,296.1 83.0,296.1 83.3,296.1 83.6,296.1 83.9,296.1 84.2,296.1 84.5,296.1 84.8,296.1 85.1,296.1 85.4,296.1 85.7,296.1 86.0,296.1 86.3,296.1 86.6,296.1 86.9,296.1 87.2,296.1 87.5,296.1 87.8,296.1 88.1,296.1 88.4,296.1 88.7,296.1 89.0,296.1 89.3,296.1 89.6,296.1 89.9,296.1 90.2,296.1 90.5,296.1 90.8,296.1 91.1,296.1 91.4,296.1 91.7,296.1 92.0,296.1 92.3,296.1 92.6,296.1 92.9,296.1 93.2,296.1 93.5,296.1 93.8,296.1 94.1,296.1 94.4,296.1 94.7,296.1 95.0,296.1 95.3,296.1 95.6,296.1 95.9,296.1 96.2,296.1 96.5,296.1 96.8,296.1 97.1,296.1 97.4,296.1 97.7,296.1 98.0,296.2 98.3,296.2 98.6,296.2 98.9,296.2 99.2,296.2 99.5,296.2 99.8,296.2 100.1,296.2 100.4,296.2 100.7,296.2 101.0,296.2 101.3,296.2 101.6,296.2 101.9,296.2 102.2,296.2 102.5,296.2 102.8,296.2 103.1,296.2 103.4,296.3 103.7,296.5 104.0,296.7 104.3,297.3 104.6,297.6 104.9,298.1 105.2,298.6 105.5,299.0 105.8,299.3 106.1,299.4 106.4,299.5 106.7,299.5 107.0,299.5 107.3,299.6 107.6,299.6 107.9,299.6 108.2,299.6 108.5,299.7 108.8,299.7 109.1,299.7 109.4,299.7 109.7,299.7 110.0,299.7 110.3,299.7 110.6,299.7 110.9,299.7 111.2,299.7 111.5,299.7 111.8,299.7 112.1,299.7 112.4,299.6 112.7,299.6 113.0,299.6 113.3,299.6 113.6,299.6 113.9,299.6 114.2,299.5 114.5,299.5 114.8,299.5 115.1,299.5 115.4,299.5 115.7,299.4 116.0,299.4 116.3,299.4 116.6,299.3 116.9,299.3 117.2,299.3 117.5,299.2 117.8,299.2 118.1,299.1 118.4,299.0 118.7,299.0 119.0,298.9 119.3,298.9 119.6,298.8 119.9,298.7 120.2,298.7 120.5,298.6 120.8,298.5 121.1,298.4 121.4,298.4 121.7,298.3 122.0,298.2 122.3,298.1 122.6,298.1 122.9,298.0 123.2,297.9 123.5,297.8 123.8,297.7 124.1,297.6 124.4,297.4 124.7,297.3 125.0,297.2 125.3,296.7 125.6,296.5 125.9,296.4 126.2,296.3 126.5,296.1 126.8,295.9 127.1,295.7 127.4,295.5 127.7,295.3 128.0,295.1 128.3,294.9 128.6,294.6 128.9,294.4 129.2,294.1 129.5,293.9 129.8,293.6 130.1,293.3 130.4,293.1 130.7,292.8 131.0,292.5 131.3,292.3 131.6,292.0 131.9,291.7 132.2,291.4 132.5,291.0 132.8,290.7 133.1,290.4 133.4,290.0 133.7,289.7 134.0,289.3 134.3,288.9 134.6,288.6 134.9,288.2 135.2,287.8 135.5,287.3 135.8,286.9 136.1,286.4 136.4,285.9 136.7,285.4 137.0,284.9 137.3,284.3 137.6,283.8 137.9,283.2 138.2,282.7 138.5,282.1 138.8,281.6 139.1,281.0 139.4,280.4 139.7,279.8 140.0,279.2 140.3,278.6 140.6,278.0 140.9,277.4 141.2,276.8 141.5,276.2 141.8,275.6 142.1,275.0 142.4,274.4 142.7,273.8 143.0,273.1 143.3,272.5 143.6,271.9 143.9,271.2 144.2,270.6 144.5,270.0 144.8,269.5 145.1,268.9 145.4,268.4 145.7,267.8 146.0,267.3 146.3,266.8 146.6,266.3 146.9,265.8 147.2,265.3 147.5,264.8 147.8,264.3 148.1,263.9 148.4,263.4 148.7,262.9 149.0,262.5 149.3,262.0 149.6,261.6 149.9,261.2 150.2,260.7 150.5,260.3 150.8,259.9 151.1,259.5 151.4,259.1 151.7,258.7 152.0,258.3 152.3,257.9 152.6,257.6 152.9,257.2 153.2,256.9 153.5,256.6 153.8,256.3 154.1,256.0 154.4,255.7 154.7,255.4 155.0,255.2 155.3,254.9 155.6,254.6 155.9,254.3 156.2,254.0 156.5,253.7 156.8,253.3 157.1,253.0 157.4,252.6 157.7,252.3 158.0,251.9 158.3,251.6 158.6,251.2 158.9,250.8 159.2,250.4 159.5,249.9 159.8,249.5 160.1,249.0 160.4,248.4 160.7,247.8 161.0,247.1 161.3,246.4 161.6,245.6 161.9,244.8 162.2,244.0 162.5,243.2 162.8,242.3 163.1,241.4 163.4,240.4 163.7,239.5 164.0,238.5 164.3,237.6 164.6,236.8 164.9,236.0 165.2,235.1 165.5,234.4 165.8,233.8 166.1,233.2 166.4,232.6 166.7,232.1 167.0,231.6 167.3,231.1 167.6,230.6 167.9,230.1 168.2,229.7 168.5,229.3 168.8,229.0 169.1,228.9 169.4,228.9 169.7,229.1 170.0,229.4 170.3,229.8 170.6,230.2 170.9,230.6 171.2,231.1 171.5,231.4 171.8,231.8 172.1,232.1 172.4,232.5 172.7,232.9 173.0,233.3 173.3,233.7 173.6,234.1 173.9,234.4 174.2,234.7 174.5,235.0 174.8,235.3 175.1,235.5 175.4,235.8 175.7,236.0 176.0,236.2 176.3,236.5 176.6,236.7 176.9,236.8 177.2,237.0 177.5,237.2 177.8,237.3 178.1,237.4 178.4,237.5 178.7,237.6 179.0,237.6 179.3,237.7 179.6,237.7 179.9,237.8 180.2,237.8 180.5,237.9 180.8,238.0 181.1,238.1 181.4,238.3 181.7,238.5 182.0,238.8 182.3,239.1 182.6,239.5 182.9,239.9 183.2,240.3 183.5,240.7 183.8,241.1 184.1,241.6 184.4,242.1 184.7,242.6 185.0,243.2 185.3,244.5 185.6,245.1 185.9,245.8 186.2,246.5 186.5,247.3 186.8,248.2 187.1,249.1 187.4,250.0 187.7,251.0 188.0,252.0 188.3,253.2 188.6,254.3 188.9,255.4 189.2,256.3 189.5,257.3 189.8,258.2 190.1,259.0 190.4,259.9 190.7,260.7 191.0,261.6 191.3,262.4 191.6,263.2 191.9,264.0 192.2,264.9 192.5,265.7 192.8,266.6 193.1,267.5 193.4,268.3 193.7,269.2 194.0,270.0 194.3,270.9 194.6,271.8 194.9,272.7 195.2,273.6 195.5,274.6 195.8,275.5 196.1,276.5 196.4,277.6 196.7,278.7 197.0,279.7 197.3,280.9 197.6,282.0 197.9,283.2 198.2,284.4 198.5,285.8 198.8,287.1 199.1,288.4 199.4,289.7 199.7,290.9 200.0,292.1 200.3,293.2 200.6,294.4 200.9,295.5 201.2,296.6 201.5,297.6 201.8,298.6 202.1,299.6 202.4,300.5 202.7,301.3 203.0,302.1 203.3,302.9 203.6,303.6 203.9,304.3 204.2,305.0 204.5,305.7 204.8,306.4 205.1,307.1 205.4,307.9 205.7,308.7 206.0,309.6 206.3,310.4 206.6,311.3 206.9,312.2 207.2,313.1 207.5,314.0 207.8,314.9 208.1,315.9 208.4,316.8 208.7,317.8 209.0,318.8 209.3,319.8 209.6,320.9 209.9,321.9 210.2,322.9 210.5,323.9 210.8,324.9 211.1,325.9 211.4,327.1 211.7,328.1 212.0,329.1 212.3,329.9 212.6,330.3 212.9,330.4 213.2,330.2 213.5,329.9 213.8,329.5 214.1,328.9 214.4,328.3 214.7,327.7 215.0,327.1 215.3,326.5 215.6,326.0 215.9,325.6 216.2,325.2 216.5,324.9 216.8,324.6 217.1,324.3 217.4,324.1 217.7,323.8 218.0,323.5 218.3,323.2 218.6,323.0 218.9,322.7 219.2,322.3 219.5,322.0 219.8,321.6 220.1,321.3 220.4,321.0 220.7,320.6 221.0,320.2 221.3,319.8 221.6,319.4 221.9,318.8 222.2,318.3 222.5,317.6 222.8,316.7 223.1,315.4 223.4,313.9 223.7,312.4 224.0,310.9 224.3,309.5 224.6,308.1 224.9,306.6 225.2,305.1 225.5,303.7 225.8,302.3 226.1,300.9 226.4,299.6 226.7,298.4 227.0,297.2 227.3,296.1 227.6,294.9 227.9,293.8 228.2,292.6 228.5,291.5 228.8,290.3 229.1,289.0 229.4,287.7 229.7,286.3 230.0,284.8 230.3,283.3 230.6,281.8 230.9,280.4 231.2,279.0 231.5,277.8 231.8,276.7 232.1,275.6 232.4,274.6 232.7,273.6 233.0,272.7 233.3,271.7 233.6,270.7 233.9,269.7 234.2,268.6 234.5,267.4 234.8,266.1 235.1,264.7 235.4,263.3 235.7,261.8 236.0,260.3 236.3,258.7 236.6,257.2 236.9,255.6 237.2,254.1 237.5,252.6 237.8,251.2 238.1,249.9 238.4,248.6 238.7,247.4 239.0,246.1 239.3,244.9 239.6,243.7 239.9,242.6 240.2,241.4 240.5,240.3 240.8,239.3 241.1,238.3 241.4,237.1 241.7,235.9 242.0,234.7 242.3,233.6 242.6,232.7 242.9,231.9 243.2,231.5 243.5,231.4 243.8,231.5 244.1,231.7 244.4,231.9 244.7,232.2 245.0,232.6 245.3,233.0 245.6,233.4 245.9,233.8 246.2,234.2 246.5,234.5 246.8,234.9 247.1,235.4 247.4,235.8 247.7,236.3 248.0,236.9 248.3,237.5 248.6,238.2 248.9,238.9 249.2,239.6 249.5,240.5 249.8,241.4 250.1,242.4 250.4,243.5 250.7,244.6 251.0,245.8 251.3,247.0 251.6,248.3 251.9,249.6 251.9,253.2 251.6,251.9 251.3,250.6 251.0,249.4 250.7,248.2 250.4,247.1 250.1,246.0 249.8,245.0 249.5,244.1 249.2,243.2 248.9,242.5 248.6,241.8 248.3,241.1 248.0,240.5 247.7,239.9 247.4,239.4 247.1,239.0 246.8,238.5 246.5,238.1 246.2,237.8 245.9,237.4 245.6,237.0 245.3,236.6 245.0,236.2 244.7,235.8 244.4,235.5 244.1,235.3 243.8,235.1 243.5,235.0 243.2,235.1 242.9,235.5 242.6,236.3 242.3,237.2 242.0,238.3 241.7,239.5 241.4,240.7 241.1,241.9 240.8,242.9 240.5,243.9 240.2,245.0 239.9,246.2 239.6,247.3 239.3,248.5 239.0,249.7 238.7,251.0 238.4,252.2 238.1,253.5 237.8,254.8 237.5,256.2 237.2,257.7 236.9,259.2 236.6,260.8 236.3,262.3 236.0,263.9 235.7,265.4 235.4,266.9 235.1,268.3 234.8,269.7 234.5,271.0 234.2,272.2 233.9,273.3 233.6,274.3 233.3,275.3 233.0,276.3 232.7,277.2 232.4,278.2 232.1,279.2 231.8,280.3 231.5,281.4 231.2,282.6 230.9,284.0 230.6,285.4 230.3,286.9 230.0,288.4 229.7,289.9 229.4,291.3 229.1,292.6 228.8,293.9 228.5,295.1 228.2,296.2 227.9,297.4 227.6,298.5 227.3,299.7 227.0,300.8 226.7,302.0 226.4,303.2 226.1,304.5 225.8,305.9 225.5,307.3 225.2,308.7 224.9,310.2 224.6,311.7 224.3,313.1 224.0,314.5 223.7,316.0 223.4,317.5 223.1,319.0 222.8,320.3 222.5,321.2 222.2,321.9 221.9,322.4 221.6,323.0 221.3,323.4 221.0,323.8 220.7,324.2 220.4,324.6 220.1,324.9 219.8,325.2 219.5,325.6 219.2,325.9 218.9,326.3 218.6,326.6 218.3,326.8 218.0,327.1 217.7,327.4 217.4,327.7 217.1,327.9 216.8,328.2 216.5,328.5 216.2,328.8 215.9,329.2 215.6,329.6 215.3,330.1 215.0,330.7 214.7,331.3 214.4,331.9 214.1,332.5 213.8,333.1 213.5,333.5 213.2,333.8 212.9,334.0 212.6,333.9 212.3,333.5 212.0,332.7 211.7,331.7 211.4,330.7 211.1,329.5 210.8,328.5 210.5,327.5 210.2,326.5 209.9,325.5 209.6,324.5 209.3,323.4 209.0,322.4 208.7,321.4 208.4,320.4 208.1,319.5 207.8,318.5 207.5,317.6 207.2,316.7 206.9,315.8 206.6,314.9 206.3,314.0 206.0,313.2 205.7,312.3 205.4,311.5 205.1,310.7 204.8,310.0 204.5,309.3 204.2,308.6 203.9,307.9 203.6,307.2 203.3,306.5 203.0,305.7 202.7,304.9 202.4,304.1 202.1,303.2 201.8,302.2 201.5,301.2 201.2,300.2 200.9,299.1 200.6,298.0 200.3,296.8 200.0,295.7 199.7,294.5 199.4,293.3 199.1,292.0 198.8,290.7 198.5,289.4 198.2,288.0 197.9,286.8 197.6,285.6 197.3,284.5 197.0,283.3 196.7,282.3 196.4,281.2 196.1,280.1 195.8,279.1 195.5,278.2 195.2,277.2 194.9,276.3 194.6,275.4 194.3,274.5 194.0,273.6 193.7,272.8 193.4,271.9 193.1,271.1 192.8,270.2 192.5,269.3 192.2,268.5 191.9,267.6 191.6,266.8 191.3,266.0 191.0,265.2 190.7,264.3 190.4,263.5 190.1,262.6 189.8,261.8 189.5,260.9 189.2,259.9 188.9,259.0 188.6,257.9 188.3,256.8 188.0,255.6 187.7,254.6 187.4,253.6 187.1,252.7 186.8,251.8 186.5,250.9 186.2,250.1 185.9,249.4 185.6,248.7 185.3,248.1 185.0,248.0 184.7,247.4 184.4,246.9 184.1,246.4 183.8,245.9 183.5,245.5 183.2,245.1 182.9,244.7 182.6,244.3 182.3,243.9 182.0,243.6 181.7,243.3 181.4,243.1 181.1,242.9 180.8,242.8 180.5,242.7 180.2,242.6 179.9,242.6 179.6,242.5 179.3,242.5 179.0,242.4 178.7,242.4 178.4,242.3 178.1,242.2 177.8,242.1 177.5,242.0 177.2,241.8 176.9,241.6 176.6,241.5 176.3,241.3 176.0,241.0 175.7,240.8 175.4,240.6 175.1,240.3 174.8,240.1 174.5,239.8 174.2,239.5 173.9,239.2 173.6,238.9 173.3,238.5 173.0,238.1 172.7,237.7 172.4,237.3 172.1,236.9 171.8,236.6 171.5,236.2 171.2,235.9 170.9,235.4 170.6,235.0 170.3,234.6 170.0,234.2 169.7,233.9 169.4,233.7 169.1,233.7 168.8,233.8 168.5,234.1 168.2,234.5 167.9,234.9 167.6,235.4 167.3,235.9 167.0,236.4 166.7,236.9 166.4,237.4 166.1,238.0 165.8,238.6 165.5,239.2 165.2,239.9 164.9,240.4 164.6,241.2 164.3,242.0 164.0,242.9 163.7,243.9 163.4,244.8 163.1,245.8 162.8,246.7 162.5,247.6 162.2,248.4 161.9,249.2 161.6,250.0 161.3,250.8 161.0,251.5 160.7,252.2 160.4,252.8 160.1,253.4 159.8,253.9 159.5,254.3 159.2,254.8 158.9,255.2 158.6,255.6 158.3,256.0 158.0,256.3 157.7,256.7 157.4,257.0 157.1,257.4 156.8,257.7 156.5,258.1 156.2,258.4 155.9,258.7 155.6,259.0 155.3,259.3 155.0,259.6 154.7,259.8 154.4,260.1 154.1,260.4 153.8,260.7 153.5,261.0 153.2,261.3 152.9,261.6 152.6,262.0 152.3,262.3 152.0,262.7 151.7,263.1 151.4,263.5 151.1,263.9 150.8,264.3 150.5,264.7 150.2,265.1 149.9,265.6 149.6,266.0 149.3,266.4 149.0,266.9 148.7,267.3 148.4,267.8 148.1,268.3 147.8,268.7 147.5,269.2 147.2,269.7 146.9,270.2 146.6,270.7 146.3,271.2 146.0,271.7 145.7,272.2 145.4,272.8 145.1,273.3 144.8,273.9 144.5,274.4 144.2,275.0 143.9,275.6 143.6,276.3 143.3,276.9 143.0,277.5 142.7,278.2 142.4,278.8 142.1,279.4 141.8,280.0 141.5,280.6 141.2,281.2 140.9,281.8 140.6,282.4 140.3,283.0 140.0,283.6 139.7,284.2 139.4,284.8 139.1,285.4 138.8,286.0 138.5,286.5 138.2,287.1 137.9,287.6 137.6,288.2 137.3,288.7 137.0,289.3 136.7,289.8 136.4,290.3 136.1,290.8 135.8,291.3 135.5,291.7 135.2,292.2 134.9,292.6 134.6,293.0 134.3,293.3 134.0,293.7 133.7,294.1 133.4,294.4 133.1,294.8 132.8,295.1 132.5,295.4 132.2,295.8 131.9,296.1 131.6,296.4 131.3,296.7 131.0,296.9 130.7,297.2 130.4,297.5 130.1,297.7 129.8,298.0 129.5,298.3 129.2,298.5 128.9,298.8 128.6,299.0 128.3,299.3 128.0,299.5 127.7,299.7 127.4,299.9 127.1,300.1 126.8,300.3 126.5,300.5 126.2,300.7 125.9,300.8 125.6,300.9 125.3,301.1 125.0,300.8 124.7,300.9 124.4,301.0 124.1,301.2 123.8,301.3 123.5,301.4 123.2,301.5 122.9,301.6 122.6,301.7 122.3,301.7 122.0,301.8 121.7,301.9 121.4,302.0 121.1,302.0 120.8,302.1 120.5,302.2 120.2,302.3 119.9,302.3 119.6,302.4 119.3,302.5 119.0,302.5 118.7,302.6 118.4,302.6 118.1,302.7 117.8,302.8 117.5,302.8 117.2,302.9 116.9,302.9 116.6,302.9 116.3,303.0 116.0,303.0 115.7,303.0 115.4,303.1 115.1,303.1 114.8,303.1 114.5,303.1 114.2,303.1 113.9,303.2 113.6,303.2 113.3,303.2 113.0,303.2 112.7,303.2 112.4,303.2 112.1,303.3 111.8,303.3 111.5,303.3 111.2,303.3 110.9,303.3 110.6,303.3 110.3,303.3 110.0,303.3 109.7,303.3 109.4,303.3 109.1,303.3 108.8,303.3 108.5,303.3 108.2,303.2 107.9,303.2 107.6,303.2 107.3,303.2 107.0,303.1 106.7,303.1 106.4,303.1 106.1,303.0 105.8,302.9 105.5,302.6 105.2,302.2 104.9,301.7 104.6,301.2 104.3,300.9 104.0,301.1 103.7,300.9 103.4,300.7 103.1,300.6 102.8,300.6 102.5,300.6 102.2,300.6 101.9,300.6 101.6,300.6 101.3,300.6 101.0,300.6 100.7,300.6 100.4,300.6 100.1,300.6 99.8,300.6 99.5,300.6 99.2,300.6 98.9,300.6 98.6,300.6 98.3,300.6 98.0,300.6 97.7,300.5 97.4,300.5 97.1,300.5 96.8,300.5 96.5,300.5 96.2,300.5 95.9,300.5 95.6,300.5 95.3,300.5 95.0,300.5 94.7,300.5 94.4,300.5 94.1,300.5 93.8,300.5 93.5,300.5 93.2,300.5 92.9,300.5 92.6,300.5 92.3,300.5 92.0,300.5 91.7,300.5 91.4,300.5 91.1,300.5 90.8,300.5 90.5,300.5 90.2,300.5 89.9,300.5 89.6,300.5 89.3,300.5 89.0,300.5 88.7,300.5 88.4,300.5 88.1,300.5 87.8,300.5 87.5,300.5 87.2,300.5 86.9,300.5 86.6,300.5 86.3,300.5 86.0,300.5 85.7,300.5 85.4,300.5 85.1,300.5 84.8,300.5 84.5,300.5 84.2,300.5 83.9,300.5 83.6,300.5 83.3,300.5 83.0,300.5 82.7,300.5 82.4,300.5 82.1,300.5 81.8,300.5 81.5,300.5 81.2,300.5 80.9,300.5 80.6,300.5 80.3,300.5 80.0,300.5 79.7,300.5 79.4,300.5 79.1,300.5 78.8,300.5 78.5,300.5 78.2,300.5 77.9,300.5 77.6,300.5 77.3,300.5 77.0,300.5 76.7,300.5 76.4,300.5 76.1,300.5 75.8,300.5 75.5,300.5 75.2,300.5 74.9,300.5 74.6,300.5 74.3,300.5 74.0,300.5 73.7,300.5 73.4,300.5 73.1,300.5 72.8,300.5 72.5,300.5 72.2,300.5 71.9,300.5 71.6,300.5 71.3,300.5 71.0,300.5 70.7,300.5 70.4,300.5 70.1,300.5 69.8,300.5 69.5,300.5 69.2,300.5 68.9,300.5 68.6,300.5 68.3,300.5 68.0,300.5 67.7,300.4 67.4,300.4 67.1,300.4 66.8,300.4 66.5,300.4 66.2,300.3 65.9,300.3 65.6,300.3 65.3,300.3 65.0,300.2 64.7,300.2 64.4,300.2 64.1,300.1 63.8,300.1 63.5,300.0 63.2,299.8 62.9,299.6 62.6,299.4 62.3,299.2 62.0,299.0" fill="#2a48a8" stroke="#1f338c" stroke-width="1.1" stroke-linejoin="round"/>
<polygon points="251.7,248.7 252.0,250.1 252.3,251.5 252.6,252.9 252.9,254.3 253.2,255.8 253.5,257.4 253.8,258.9 254.1,260.5 254.4,262.2 254.7,263.8 255.0,265.5 255.3,267.2 255.6,269.0 255.9,270.7 256.2,272.5 256.5,274.2 256.8,276.0 257.1,277.8 257.4,279.6 257.7,281.4 258.0,283.3 258.3,285.1 258.6,286.9 258.9,288.7 259.2,290.4 259.5,292.2 259.8,294.0 260.1,295.7 260.4,297.5 260.7,299.2 261.0,300.9 261.3,302.5 261.6,304.1 261.9,305.7 262.2,307.3 262.5,308.8 262.8,310.3 263.1,311.8 263.4,313.2 263.7,314.5 264.0,315.8 264.3,317.1 264.6,318.3 264.9,319.4 265.2,320.5 265.5,321.6 265.8,322.5 266.1,323.4 266.4,324.3 266.7,325.1 267.0,325.8 267.3,326.4 267.6,327.0 267.9,327.5 268.2,327.9 268.5,328.2 268.8,328.5 269.1,328.7 269.4,328.8 269.7,328.8 270.0,328.7 270.3,328.6 270.6,328.4 270.9,328.1 271.2,327.7 271.5,327.3 271.8,326.8 272.1,326.2 272.4,325.5 272.7,324.7 273.0,323.9 273.3,323.0 273.6,322.0 273.9,321.0 274.2,319.8 274.5,318.6 274.8,317.4 275.1,316.1 275.4,314.7 275.7,313.2 276.0,311.7 276.3,310.1 276.6,308.5 276.9,306.8 277.2,305.1 277.5,303.3 277.8,301.5 278.1,299.7 278.4,297.8 278.7,295.8 279.0,293.9 279.3,291.9 279.6,289.8 279.9,287.8 280.2,285.7 280.5,283.7 280.8,281.6 281.1,279.5 281.4,277.4 281.7,275.3 282.0,273.2 282.3,271.2 282.6,269.1 282.9,267.1 283.2,265.1 283.5,263.1 283.8,261.1 284.1,259.2 284.4,257.3 284.7,255.5 285.0,253.7 285.3,251.9 285.6,250.3 285.9,248.6 286.2,247.1 286.5,245.6 286.8,244.2 287.1,242.9 287.4,241.6 287.7,240.4 288.0,239.3 288.3,238.4 288.6,237.5 288.9,236.6 289.2,235.9 289.5,235.3 289.8,234.8 290.1,234.4 290.4,234.1 290.7,234.0 291.0,233.9 291.3,233.9 291.6,234.1 291.9,234.3 292.2,234.7 292.5,235.2 292.8,235.8 293.1,236.5 293.4,237.3 293.7,238.2 294.0,239.2 294.3,240.3 294.6,241.5 294.9,242.8 295.2,244.2 295.5,245.7 295.8,247.3 296.1,249.0 296.4,250.7 296.7,252.5 297.0,254.4 297.3,256.3 297.6,258.3 297.9,260.4 298.2,262.5 298.5,264.6 298.8,266.8 299.1,269.1 299.4,271.3 299.7,273.6 300.0,275.9 300.3,278.2 300.6,280.5 300.9,282.8 301.2,285.2 301.5,287.5 301.8,289.7 302.1,292.0 302.4,294.2 302.7,296.5 303.0,298.6 303.3,300.7 303.6,302.8 303.9,304.8 304.2,306.8 304.5,308.7 304.8,310.5 305.1,312.2 305.4,313.9 305.7,315.4 306.0,316.9 306.3,318.3 306.6,319.6 306.9,320.8 307.2,321.9 307.5,322.9 307.8,323.7 308.1,324.5 308.4,325.1 308.7,325.7 309.0,326.1 309.3,326.4 309.6,326.6 309.9,326.6 310.2,326.5 310.5,326.4 310.8,326.1 311.1,325.7 311.4,325.1 311.7,324.5 312.0,323.7 312.3,322.8 312.6,321.8 312.9,320.7 313.2,319.4 313.5,318.1 313.8,316.7 314.1,315.1 314.4,313.5 314.7,311.8 315.0,310.0 315.3,308.1 315.6,306.1 315.9,304.1 316.2,301.9 316.5,299.8 316.8,297.5 317.1,295.3 317.4,292.9 317.7,290.6 318.0,288.2 318.3,285.8 318.6,283.4 318.9,280.9 319.2,278.5 319.5,276.0 319.8,273.6 320.1,271.2 320.4,268.8 320.7,266.5 321.0,264.2 321.3,261.9 321.6,259.7 321.9,257.5 322.2,255.4 322.5,253.4 322.8,251.5 323.1,249.6 323.4,247.8 323.7,246.1 324.0,244.6 324.3,243.1 324.6,241.7 324.9,240.5 325.2,239.4 325.5,238.4 325.8,237.5 326.1,236.7 326.4,236.1 326.7,235.6 327.0,235.3 327.3,235.1 327.6,235.0 327.9,235.1 328.2,235.3 328.5,235.6 328.8,236.1 329.1,236.8 329.4,237.5 329.7,238.4 330.0,239.5 330.3,240.6 330.6,241.9 330.9,243.3 331.2,244.9 331.5,246.5 331.8,248.3 332.1,250.2 332.4,252.1 332.7,254.2 333.0,256.4 333.3,258.6 333.6,260.9 333.9,263.3 334.2,265.7 334.5,268.2 334.8,270.7 335.1,273.3 335.4,275.9 335.7,278.5 336.0,281.2 336.3,283.8 336.6,286.4 336.9,289.0 337.2,291.6 337.5,294.2 337.8,296.7 338.1,299.1 338.4,301.6 338.7,303.9 339.0,306.1 339.3,308.3 339.6,310.4 339.9,312.4 340.2,314.3 340.5,316.1 340.8,317.7 341.1,319.2 341.4,320.6 341.7,321.9 342.0,323.0 342.3,324.0 342.6,324.8 342.9,325.5 343.2,326.0 343.5,326.4 343.8,326.6 344.1,326.6 344.4,326.5 344.7,326.2 345.0,325.7 345.3,325.1 345.6,324.4 345.9,323.5 346.2,322.4 346.5,321.2 346.8,319.8 347.1,318.3 347.4,316.6 347.7,314.9 348.0,313.0 348.3,310.9 348.6,308.8 348.9,306.5 349.2,304.2 349.5,301.7 349.8,299.2 350.1,296.6 350.4,294.0 350.7,291.2 351.0,288.5 351.3,285.7 351.6,282.9 351.9,280.0 352.2,277.2 352.5,274.4 352.8,271.6 353.1,268.8 353.4,266.1 353.7,263.4 354.0,260.8 354.3,258.2 354.6,255.8 354.9,253.4 355.2,251.1 355.5,249.0 355.8,246.9 356.1,245.0 356.4,243.2 356.7,241.6 357.0,240.1 357.3,238.8 357.6,237.6 357.9,236.6 358.2,235.8 358.5,235.2 358.8,234.7 359.1,234.4 359.4,234.3 359.7,234.4 360.0,234.6 360.3,235.1 360.6,235.7 360.9,236.5 361.2,237.5 361.5,238.7 361.8,240.0 362.1,241.6 362.4,243.2 362.7,245.1 363.0,247.1 363.3,249.2 363.6,251.5 363.9,253.8 364.2,256.4 364.5,259.0 364.8,261.7 365.1,264.5 365.4,267.4 365.7,270.3 366.0,273.3 366.3,276.3 366.6,279.4 366.9,282.4 367.2,285.5 367.5,288.5 367.8,291.6 368.1,294.5 368.4,297.5 368.7,300.3 369.0,303.1 369.3,305.8 369.6,308.4 369.9,310.9 370.2,313.2 370.5,315.4 370.8,317.5 371.1,319.4 371.4,321.1 371.7,322.6 372.0,324.0 372.3,325.2 372.6,326.2 372.9,326.9 373.2,327.5 373.5,327.9 373.8,328.0 374.1,328.0 374.4,327.7 374.7,327.2 375.0,326.5 375.3,325.6 375.6,324.4 375.9,323.1 376.2,321.6 376.5,319.8 376.8,317.9 377.1,315.9 377.4,313.6 377.7,311.2 378.0,308.7 378.3,306.0 378.6,303.2 378.9,300.3 379.2,297.3 379.5,294.2 379.8,291.0 380.1,287.8 380.4,284.6 380.7,281.3 381.0,278.1 381.3,274.8 381.6,271.6 381.9,268.4 382.2,265.3 382.5,262.2 382.8,259.2 383.1,256.4 383.4,253.6 383.7,251.0 384.0,248.5 384.3,246.2 384.6,244.0 384.9,242.0 385.2,240.2 385.5,238.6 385.8,237.2 386.1,236.0 386.4,235.1 386.7,234.3 387.0,233.8 387.3,233.6 387.6,233.5 387.9,233.7 388.2,234.1 388.5,234.8 388.8,235.7 389.1,236.8 389.4,238.2 389.7,239.8 390.0,241.5 390.3,243.5 390.6,245.7 390.9,248.1 391.2,250.6 391.5,253.3 391.8,256.1 392.1,259.1 392.4,262.2 392.7,265.4 393.0,268.6 393.3,272.0 393.6,275.4 393.9,278.8 394.2,282.3 394.5,285.7 394.8,289.1 395.1,292.5 395.4,295.8 395.7,299.0 396.0,302.2 396.3,305.2 396.6,308.1 396.9,310.9 397.2,313.5 397.5,315.9 397.8,318.2 398.1,320.2 398.4,322.0 398.7,323.6 399.0,325.0 399.3,326.1 399.6,327.0 399.9,327.6 400.2,328.0 400.5,328.1 400.8,327.9 401.1,327.5 401.4,326.8 401.7,325.9 402.0,324.7 402.3,323.3 402.6,321.6 402.9,319.7 403.2,317.5 403.5,315.2 403.8,312.6 404.1,309.9 404.4,307.0 404.7,304.0 405.0,300.8 405.3,297.5 405.6,294.1 405.9,290.7 406.2,287.1 406.5,283.6 406.8,280.0 407.1,276.4 407.4,272.8 407.7,269.3 408.0,265.8 408.3,262.5 408.6,259.2 408.9,256.1 409.2,253.1 409.5,250.2 409.8,247.6 410.1,245.1 410.4,242.8 410.7,240.8 411.0,239.0 411.3,237.4 411.6,236.1 411.9,235.0 412.2,234.3 412.5,233.7 412.8,233.5 413.1,233.6 413.4,233.9 413.7,234.5 414.0,235.4 414.3,236.5 414.6,237.9 414.9,239.6 415.2,241.5 415.5,243.7 415.8,246.0 416.1,248.6 416.4,251.4 416.7,254.3 417.0,257.5 417.3,260.7 417.6,264.1 417.9,267.6 418.2,271.2 418.5,274.8 418.8,278.5 419.1,282.2 419.4,285.8 419.7,289.5 420.0,293.1 420.3,296.6 420.6,300.1 420.9,303.4 421.2,306.6 421.5,309.6 421.8,312.5 422.1,315.1 422.4,317.6 422.7,319.8 423.0,321.8 423.3,323.5 423.6,325.0 423.9,326.2 424.2,327.1 424.5,327.7 424.8,328.0 425.1,328.1 425.4,327.8 425.7,327.2 426.0,326.4 426.3,325.2 426.6,323.8 426.9,322.1 427.2,320.1 427.5,317.9 427.8,315.4 428.1,312.7 428.4,309.8 428.7,306.7 429.0,303.4 429.3,300.0 429.6,296.5 429.9,292.8 430.2,289.1 430.5,285.3 430.8,281.5 431.1,277.6 431.4,273.8 431.7,270.0 432.0,266.3 432.3,262.7 432.6,259.2 432.9,255.8 433.2,252.6 433.5,249.6 433.8,246.8 434.1,244.2 434.4,241.9 434.7,239.8 435.0,238.0 435.3,236.5 435.6,235.3 435.9,234.4 436.2,233.8 436.5,233.5 436.8,233.6 437.1,234.0 437.4,234.7 437.7,235.7 438.0,237.0 438.3,238.7 438.6,240.6 438.9,242.9 439.2,245.4 439.5,248.1 439.8,251.1 440.1,254.3 440.4,257.7 440.7,261.3 441.0,265.0 441.3,268.9 441.6,272.8 441.9,276.8 442.2,280.8 442.5,284.9 442.8,288.9 443.1,292.8 443.4,296.7 443.7,300.5 444.0,304.1 444.3,307.5 444.6,310.8 444.9,313.8 445.2,316.6 445.5,319.2 445.8,321.4 446.1,323.3 446.4,325.0 446.7,326.3 447.0,327.2 447.3,327.8 447.6,328.1 447.9,328.0 448.2,327.5 448.5,326.7 448.8,325.5 449.1,324.0 449.4,322.2 449.7,320.0 450.0,317.6 450.3,314.8 450.6,311.8 450.9,308.6 451.2,305.2 451.5,301.5 451.8,297.7 452.1,293.8 452.4,289.7 452.7,285.6 453.0,281.5 453.3,277.3 453.6,273.2 453.9,269.1 454.2,265.1 454.5,261.3 454.8,257.6 455.1,254.0 455.4,250.7 455.7,247.6 456.0,244.8 456.3,242.2 456.6,240.0 456.9,238.0 457.2,236.4 457.5,235.1 457.8,234.2 458.1,233.7 458.4,233.5 458.7,233.7 459.0,234.2 459.3,235.1 459.6,236.4 459.9,238.0 460.2,240.0 460.5,242.2 460.8,244.8 461.1,247.6 461.4,250.7 461.7,254.0 462.0,257.6 462.3,261.3 462.6,265.2 462.9,269.2 463.2,273.2 463.5,277.4 463.8,281.6 464.1,285.7 464.4,289.9 464.7,293.9 465.0,297.9 465.3,301.7 465.6,305.4 465.9,308.9 466.2,312.1 466.5,315.2 466.8,317.9 467.1,320.4 467.4,322.5 467.7,324.3 468.0,325.8 468.3,326.9 468.6,327.7 468.9,328.1 469.2,328.1 469.5,327.7 469.8,326.9 470.1,325.8 470.4,324.3 470.7,322.5 471.0,320.3 471.3,317.8 471.6,315.0 471.9,312.0 472.2,308.6 472.5,305.1 472.8,301.3 473.1,297.4 473.4,293.3 473.7,289.1 474.0,284.8 474.3,280.5 474.6,276.2 474.9,272.0 475.2,267.8 475.5,263.7 475.8,259.7 476.1,255.9 476.4,252.4 476.7,249.0 477.0,245.9 477.3,243.1 477.6,240.6 477.9,238.5 478.2,236.7 478.5,235.3 478.8,234.3 479.1,233.7 479.4,233.5 479.7,233.7 480.0,234.3 480.3,235.3 480.6,236.8 480.9,238.6 481.2,240.8 481.5,243.3 481.8,246.2 482.1,249.4 482.4,252.9 482.7,256.7 483.0,260.7 483.3,264.8 483.6,269.1 483.9,273.5 484.2,278.0 484.5,282.6 484.8,287.1 485.1,291.6 485.4,295.9 485.7,300.2 486.0,304.2 486.3,308.1 486.6,311.7 486.9,315.0 487.2,318.0 487.5,320.7 487.8,323.0 488.1,324.8 488.4,326.3 488.7,327.3 489.0,327.9 489.3,328.1 489.6,327.8 489.9,327.0 490.2,325.8 490.5,324.2 490.8,322.1 491.1,319.7 491.4,316.8 491.7,313.6 492.0,310.1 492.3,306.3 492.6,302.2 492.9,298.0 493.2,293.5 493.5,288.9 493.5,291.7 493.2,296.3 492.9,300.8 492.6,305.0 492.3,309.1 492.0,312.9 491.7,316.4 491.4,319.6 491.1,322.5 490.8,324.9 490.5,327.0 490.2,328.6 489.9,329.8 489.6,330.6 489.3,330.9 489.0,330.7 488.7,330.1 488.4,329.1 488.1,327.6 487.8,325.8 487.5,323.5 487.2,320.8 486.9,317.8 486.6,314.5 486.3,310.9 486.0,307.0 485.7,303.0 485.4,298.7 485.1,294.4 484.8,289.9 484.5,285.4 484.2,280.8 483.9,276.3 483.6,271.9 483.3,267.6 483.0,263.5 482.7,259.5 482.4,255.7 482.1,252.2 481.8,249.0 481.5,246.1 481.2,243.6 480.9,241.4 480.6,239.6 480.3,238.1 480.0,237.1 479.7,236.5 479.4,236.3 479.1,236.5 478.8,237.1 478.5,238.1 478.2,239.5 477.9,241.3 477.6,243.4 477.3,245.9 477.0,248.7 476.7,251.8 476.4,255.2 476.1,258.7 475.8,262.5 475.5,266.5 475.2,270.6 474.9,274.8 474.6,279.0 474.3,283.3 474.0,287.6 473.7,291.9 473.4,296.1 473.1,300.2 472.8,304.1 472.5,307.9 472.2,311.4 471.9,314.8 471.6,317.8 471.3,320.6 471.0,323.1 470.7,325.3 470.4,327.1 470.1,328.6 469.8,329.7 469.5,330.5 469.2,330.9 468.9,330.9 468.6,330.5 468.3,329.7 468.0,328.6 467.7,327.1 467.4,325.3 467.1,323.2 466.8,320.7 466.5,318.0 466.2,314.9 465.9,311.7 465.6,308.2 465.3,304.5 465.0,300.7 464.7,296.7 464.4,292.7 464.1,288.5 463.8,284.4 463.5,280.2 463.2,276.0 462.9,272.0 462.6,268.0 462.3,264.1 462.0,260.4 461.7,256.8 461.4,253.5 461.1,250.4 460.8,247.6 460.5,245.0 460.2,242.8 459.9,240.8 459.6,239.2 459.3,237.9 459.0,237.0 458.7,236.5 458.4,236.3 458.1,236.5 457.8,237.0 457.5,237.9 457.2,239.2 456.9,240.8 456.6,242.8 456.3,245.0 456.0,247.6 455.7,250.4 455.4,253.5 455.1,256.8 454.8,260.4 454.5,264.1 454.2,267.9 453.9,271.9 453.6,276.0 453.3,280.1 453.0,284.3 452.7,288.4 452.4,292.5 452.1,296.6 451.8,300.5 451.5,304.3 451.2,308.0 450.9,311.4 450.6,314.6 450.3,317.6 450.0,320.4 449.7,322.8 449.4,325.0 449.1,326.8 448.8,328.3 448.5,329.5 448.2,330.3 447.9,330.8 447.6,330.9 447.3,330.6 447.0,330.0 446.7,329.1 446.4,327.8 446.1,326.1 445.8,324.2 445.5,322.0 445.2,319.4 444.9,316.6 444.6,313.6 444.3,310.3 444.0,306.9 443.7,303.3 443.4,299.5 443.1,295.6 442.8,291.7 442.5,287.7 442.2,283.6 441.9,279.6 441.6,275.6 441.3,271.7 441.0,267.8 440.7,264.1 440.4,260.5 440.1,257.1 439.8,253.9 439.5,250.9 439.2,248.2 438.9,245.7 438.6,243.4 438.3,241.5 438.0,239.8 437.7,238.5 437.4,237.5 437.1,236.8 436.8,236.4 436.5,236.3 436.2,236.6 435.9,237.2 435.6,238.1 435.3,239.3 435.0,240.8 434.7,242.6 434.4,244.7 434.1,247.0 433.8,249.6 433.5,252.4 433.2,255.4 432.9,258.6 432.6,262.0 432.3,265.5 432.0,269.1 431.7,272.8 431.4,276.6 431.1,280.4 430.8,284.3 430.5,288.1 430.2,291.9 429.9,295.6 429.6,299.3 429.3,302.8 429.0,306.2 428.7,309.5 428.4,312.6 428.1,315.5 427.8,318.2 427.5,320.7 427.2,322.9 426.9,324.9 426.6,326.6 426.3,328.0 426.0,329.2 425.7,330.0 425.4,330.6 425.1,330.9 424.8,330.8 424.5,330.5 424.2,329.9 423.9,329.0 423.6,327.8 423.3,326.3 423.0,324.6 422.7,322.6 422.4,320.4 422.1,317.9 421.8,315.3 421.5,312.4 421.2,309.4 420.9,306.2 420.6,302.9 420.3,299.4 420.0,295.9 419.7,292.3 419.4,288.6 419.1,285.0 418.8,281.3 418.5,277.6 418.2,274.0 417.9,270.4 417.6,266.9 417.3,263.5 417.0,260.3 416.7,257.1 416.4,254.2 416.1,251.4 415.8,248.8 415.5,246.5 415.2,244.3 414.9,242.4 414.6,240.7 414.3,239.3 414.0,238.2 413.7,237.3 413.4,236.7 413.1,236.4 412.8,236.3 412.5,236.5 412.2,237.1 411.9,237.8 411.6,238.9 411.3,240.2 411.0,241.8 410.7,243.6 410.4,245.6 410.1,247.9 409.8,250.4 409.5,253.0 409.2,255.9 408.9,258.9 408.6,262.0 408.3,265.3 408.0,268.6 407.7,272.1 407.4,275.6 407.1,279.2 406.8,282.8 406.5,286.4 406.2,289.9 405.9,293.5 405.6,296.9 405.3,300.3 405.0,303.6 404.7,306.8 404.4,309.8 404.1,312.7 403.8,315.4 403.5,318.0 403.2,320.3 402.9,322.5 402.6,324.4 402.3,326.1 402.0,327.5 401.7,328.7 401.4,329.6 401.1,330.3 400.8,330.7 400.5,330.9 400.2,330.8 399.9,330.4 399.6,329.8 399.3,328.9 399.0,327.8 398.7,326.4 398.4,324.8 398.1,323.0 397.8,321.0 397.5,318.7 397.2,316.3 396.9,313.7 396.6,310.9 396.3,308.0 396.0,305.0 395.7,301.8 395.4,298.6 395.1,295.3 394.8,291.9 394.5,288.5 394.2,285.1 393.9,281.6 393.6,278.2 393.3,274.8 393.0,271.4 392.7,268.2 392.4,265.0 392.1,261.9 391.8,258.9 391.5,256.1 391.2,253.4 390.9,250.9 390.6,248.5 390.3,246.3 390.0,244.3 389.7,242.6 389.4,241.0 389.1,239.6 388.8,238.5 388.5,237.6 388.2,236.9 387.9,236.5 387.6,236.3 387.3,236.4 387.0,236.6 386.7,237.1 386.4,237.9 386.1,238.8 385.8,240.0 385.5,241.4 385.2,243.0 384.9,244.8 384.6,246.8 384.3,249.0 384.0,251.3 383.7,253.8 383.4,256.4 383.1,259.2 382.8,262.0 382.5,265.0 382.2,268.1 381.9,271.2 381.6,274.4 381.3,277.6 381.0,280.9 380.7,284.1 380.4,287.4 380.1,290.6 379.8,293.8 379.5,297.0 379.2,300.1 378.9,303.1 378.6,306.0 378.3,308.8 378.0,311.5 377.7,314.0 377.4,316.4 377.1,318.7 376.8,320.7 376.5,322.6 376.2,324.4 375.9,325.9 375.6,327.2 375.3,328.4 375.0,329.3 374.7,330.0 374.4,330.5 374.1,330.8 373.8,330.8 373.5,330.7 373.2,330.3 372.9,329.7 372.6,329.0 372.3,328.0 372.0,326.8 371.7,325.4 371.4,323.9 371.1,322.2 370.8,320.3 370.5,318.2 370.2,316.0 369.9,313.7 369.6,311.2 369.3,308.6 369.0,305.9 368.7,303.1 368.4,300.3 368.1,297.3 367.8,294.4 367.5,291.3 367.2,288.3 366.9,285.2 366.6,282.2 366.3,279.1 366.0,276.1 365.7,273.1 365.4,270.2 365.1,267.3 364.8,264.5 364.5,261.8 364.2,259.2 363.9,256.6 363.6,254.3 363.3,252.0 363.0,249.9 362.7,247.9 362.4,246.0 362.1,244.4 361.8,242.8 361.5,241.5 361.2,240.3 360.9,239.3 360.6,238.5 360.3,237.9 360.0,237.4 359.7,237.2 359.4,237.1 359.1,237.2 358.8,237.5 358.5,238.0 358.2,238.6 357.9,239.4 357.6,240.4 357.3,241.6 357.0,242.9 356.7,244.4 356.4,246.0 356.1,247.8 355.8,249.7 355.5,251.8 355.2,253.9 354.9,256.2 354.6,258.6 354.3,261.0 354.0,263.6 353.7,266.2 353.4,268.9 353.1,271.6 352.8,274.4 352.5,277.2 352.2,280.0 351.9,282.8 351.6,285.7 351.3,288.5 351.0,291.3 350.7,294.0 350.4,296.8 350.1,299.4 349.8,302.0 349.5,304.5 349.2,307.0 348.9,309.3 348.6,311.6 348.3,313.7 348.0,315.8 347.7,317.7 347.4,319.4 347.1,321.1 346.8,322.6 346.5,324.0 346.2,325.2 345.9,326.3 345.6,327.2 345.3,327.9 345.0,328.5 344.7,329.0 344.4,329.3 344.1,329.4 343.8,329.4 343.5,329.2 343.2,328.8 342.9,328.3 342.6,327.6 342.3,326.8 342.0,325.8 341.7,324.7 341.4,323.4 341.1,322.0 340.8,320.5 340.5,318.9 340.2,317.1 339.9,315.2 339.6,313.2 339.3,311.1 339.0,308.9 338.7,306.7 338.4,304.4 338.1,301.9 337.8,299.5 337.5,297.0 337.2,294.4 336.9,291.8 336.6,289.2 336.3,286.6 336.0,284.0 335.7,281.3 335.4,278.7 335.1,276.1 334.8,273.5 334.5,271.0 334.2,268.5 333.9,266.1 333.6,263.7 333.3,261.4 333.0,259.2 332.7,257.0 332.4,254.9 332.1,253.0 331.8,251.1 331.5,249.3 331.2,247.7 330.9,246.1 330.6,244.7 330.3,243.4 330.0,242.3 329.7,241.2 329.4,240.3 329.1,239.6 328.8,238.9 328.5,238.4 328.2,238.1 327.9,237.9 327.6,237.8 327.3,237.9 327.0,238.1 326.7,238.4 326.4,238.9 326.1,239.5 325.8,240.3 325.5,241.2 325.2,242.2 324.9,243.3 324.6,244.5 324.3,245.9 324.0,247.4 323.7,248.9 323.4,250.6 323.1,252.4 322.8,254.3 322.5,256.2 322.2,258.2 321.9,260.3 321.6,262.5 321.3,264.7 321.0,267.0 320.7,269.3 320.4,271.6 320.1,274.0 319.8,276.4 319.5,278.8 319.2,281.3 318.9,283.7 318.6,286.2 318.3,288.6 318.0,291.0 317.7,293.4 317.4,295.7 317.1,298.1 316.8,300.3 316.5,302.6 316.2,304.7 315.9,306.9 315.6,308.9 315.3,310.9 315.0,312.8 314.7,314.6 314.4,316.3 314.1,317.9 313.8,319.5 313.5,320.9 313.2,322.2 312.9,323.5 312.6,324.6 312.3,325.6 312.0,326.5 311.7,327.3 311.4,327.9 311.1,328.5 310.8,328.9 310.5,329.2 310.2,329.3 309.9,329.4 309.6,329.4 309.3,329.2 309.0,328.9 308.7,328.5 308.4,327.9 308.1,327.3 307.8,326.5 307.5,325.7 307.2,324.7 306.9,323.6 306.6,322.4 306.3,321.1 306.0,319.7 305.7,318.2 305.4,316.7 305.1,315.0 304.8,313.3 304.5,311.5 304.2,309.6 303.9,307.6 303.6,305.6 303.3,303.5 303.0,301.4 302.7,299.3 302.4,297.0 302.1,294.8 301.8,292.5 301.5,290.3 301.2,288.0 300.9,285.6 300.6,283.3 300.3,281.0 300.0,278.7 299.7,276.4 299.4,274.1 299.1,271.9 298.8,269.6 298.5,267.4 298.2,265.3 297.9,263.2 297.6,261.1 297.3,259.1 297.0,257.2 296.7,255.3 296.4,253.5 296.1,251.8 295.8,250.1 295.5,248.5 295.2,247.0 294.9,245.6 294.6,244.3 294.3,243.1 294.0,242.0 293.7,241.0 293.4,240.1 293.1,239.3 292.8,238.6 292.5,238.0 292.2,237.5 291.9,237.1 291.6,236.9 291.3,236.7 291.0,236.7 290.7,236.8 290.4,236.9 290.1,237.2 289.8,237.6 289.5,238.1 289.2,238.8 288.9,239.5 288.6,240.3 288.3,241.2 288.0,242.2 287.7,243.3 287.4,244.5 287.1,245.7 286.8,247.1 286.5,248.5 286.2,250.0 285.9,251.5 285.6,253.2 285.3,254.8 285.0,256.6 284.7,258.4 284.4,260.2 284.1,262.1 283.8,264.0 283.5,266.0 283.2,268.0 282.9,270.0 282.6,272.1 282.3,274.1 282.0,276.2 281.7,278.3 281.4,280.4 281.1,282.5 280.8,284.6 280.5,286.7 280.2,288.7 279.9,290.8 279.6,292.9 279.3,294.9 279.0,296.9 278.7,298.9 278.4,300.8 278.1,302.7 277.8,304.6 277.5,306.4 277.2,308.2 276.9,309.9 276.6,311.6 276.3,313.2 276.0,314.8 275.7,316.3 275.4,317.8 275.1,319.2 274.8,320.5 274.5,321.8 274.2,323.0 273.9,324.1 273.6,325.1 273.3,326.1 273.0,327.0 272.7,327.9 272.4,328.6 272.1,329.3 271.8,329.9 271.5,330.5 271.2,330.9 270.9,331.3 270.6,331.6 270.3,331.8 270.0,331.9 269.7,332.0 269.4,332.0 269.1,331.9 268.8,331.7 268.5,331.5 268.2,331.2 267.9,330.8 267.6,330.3 267.3,329.7 267.0,329.0 266.7,328.3 266.4,327.6 266.1,326.7 265.8,325.8 265.5,324.8 265.2,323.8 264.9,322.7 264.6,321.6 264.3,320.4 264.0,319.1 263.7,317.8 263.4,316.5 263.1,315.1 262.8,313.7 262.5,312.2 262.2,310.7 261.9,309.1 261.6,307.5 261.3,305.9 261.0,304.2 260.7,302.6 260.4,300.9 260.1,299.1 259.8,297.4 259.5,295.6 259.2,293.9 258.9,292.1 258.6,290.3 258.3,288.5 258.0,286.7 257.7,284.9 257.4,283.1 257.1,281.3 256.8,279.5 256.5,277.7 256.2,275.9 255.9,274.2 255.6,272.4 255.3,270.7 255.0,269.0 254.7,267.3 254.4,265.7 254.1,264.1 253.8,262.5 253.5,260.9 253.2,259.4 252.9,257.9 252.6,256.4 252.3,255.0 252.0,253.6 251.7,252.3" fill="#2d47a6" stroke="#3048a4" stroke-width="0.9" stroke-linejoin="round"/>
<polygon points="7.1,301.3 7.6,301.3 8.1,301.3 8.6,301.3 9.1,301.3 9.6,301.3 10.1,301.3 10.6,301.3 11.1,301.3 11.6,301.3 12.1,301.3 12.6,301.3 13.1,301.3 13.6,301.3 14.1,301.3 14.6,301.3 15.1,301.3 15.6,301.3 16.1,301.3 16.6,301.3 17.1,301.3 17.6,301.3 18.1,301.3 18.6,301.3 19.1,301.3 19.6,301.3 20.1,301.3 20.6,301.3 21.1,301.3 21.6,301.3 22.1,301.3 22.6,301.3 23.1,301.3 23.6,301.3 24.1,301.3 24.6,301.3 25.1,301.3 25.6,301.3 26.1,301.3 26.6,301.3 27.1,301.3 27.6,301.3 28.1,301.3 28.6,301.3 29.1,301.3 29.6,301.3 30.1,301.3 30.6,301.3 31.1,301.3 31.6,301.3 32.1,301.3 32.6,301.3 33.1,301.3 33.6,301.3 34.1,301.3 34.6,301.3 35.1,301.3 35.6,301.3 36.1,301.3 36.6,301.3 37.1,301.3 37.6,301.3 38.1,301.3 38.6,301.3 39.1,301.3 39.6,301.3 40.1,301.3 40.6,301.3 41.1,301.3 41.6,301.3 42.1,301.3 42.6,301.3 43.1,301.3 43.6,301.3 44.1,301.3 44.6,301.3 45.1,301.3 45.6,301.3 46.1,301.3 46.6,301.3 47.1,301.3 47.6,301.3 48.1,301.3 48.6,301.3 49.1,301.3 49.6,301.3 50.1,301.3 50.6,301.3 51.1,301.3 51.6,301.3 52.1,301.3 52.6,301.3 53.1,301.3 53.6,301.3 54.1,301.3 54.6,301.3 55.1,301.3 55.6,301.3 55.6,305.5 55.1,305.5 54.6,305.5 54.1,305.5 53.6,305.5 53.1,305.5 52.6,305.5 52.1,305.5 51.6,305.5 51.1,305.5 50.6,305.5 50.1,305.5 49.6,305.5 49.1,305.5 48.6,305.5 48.1,305.5 47.6,305.5 47.1,305.5 46.6,305.5 46.1,305.5 45.6,305.5 45.1,305.5 44.6,305.5 44.1,305.5 43.6,305.5 43.1,305.5 42.6,305.5 42.1,305.5 41.6,305.5 41.1,305.5 40.6,305.5 40.1,305.5 39.6,305.5 39.1,305.5 38.6,305.5 38.1,305.5 37.6,305.5 37.1,305.5 36.6,305.5 36.1,305.5 35.6,305.5 35.1,305.5 34.6,305.5 34.1,305.5 33.6,305.5 33.1,305.5 32.6,305.5 32.1,305.5 31.6,305.5 31.1,305.5 30.6,305.5 30.1,305.5 29.6,305.5 29.1,305.5 28.6,305.5 28.1,305.5 27.6,305.5 27.1,305.5 26.6,305.5 26.1,305.5 25.6,305.5 25.1,305.5 24.6,305.5 24.1,305.5 23.6,305.5 23.1,305.5 22.6,305.5 22.1,305.5 21.6,305.5 21.1,305.5 20.6,305.5 20.1,305.5 19.6,305.5 19.1,305.5 18.6,305.5 18.1,305.5 17.6,305.5 17.1,305.5 16.6,305.5 16.1,305.5 15.6,305.5 15.1,305.5 14.6,305.5 14.1,305.5 13.6,305.5 13.1,305.5 12.6,305.5 12.1,305.5 11.6,305.5 11.1,305.5 10.6,305.5 10.1,305.5 9.6,305.5 9.1,305.5 8.6,305.5 8.1,305.5 7.6,305.5 7.1,305.5" fill="#3fb63f" stroke="#2f9c2f" stroke-width="0.8" stroke-linejoin="round"/>
<polyline points="55.8,303.4 56.6,307 57.6,309.4" fill="none" stroke="#3aa83a" stroke-width="1.5"/>
<polygon points="57.6,306.3 57.9,306.4 58.2,306.5 58.5,306.5 58.8,306.6 59.1,306.7 59.4,306.7 59.7,306.8 60.0,306.8 60.3,306.8 60.6,306.8 60.9,306.8 61.2,306.8 61.5,306.8 61.8,306.8 62.1,306.8 62.4,306.8 62.7,306.8 63.0,306.8 63.3,306.8 63.6,306.8 63.9,306.8 64.2,306.8 64.5,306.8 64.8,306.8 65.1,306.8 65.4,306.8 65.7,306.9 66.0,306.9 66.3,306.9 66.6,306.9 66.9,306.9 67.2,306.9 67.5,306.9 67.8,306.9 68.1,306.9 68.4,306.9 68.7,306.9 69.0,306.9 69.3,306.9 69.6,306.9 69.9,306.9 70.2,306.9 70.5,306.9 70.8,306.9 71.1,306.9 71.4,306.9 71.7,306.9 72.0,306.9 72.3,306.9 72.6,306.9 72.9,306.9 73.2,306.9 73.5,306.9 73.8,306.9 74.1,306.9 74.4,306.9 74.7,306.9 75.0,306.9 75.3,306.9 75.6,306.9 75.9,306.9 76.2,306.9 76.5,306.9 76.8,306.9 77.1,306.9 77.4,306.9 77.7,306.9 78.0,306.9 78.3,306.9 78.6,306.9 78.9,306.9 79.2,306.9 79.5,306.9 79.8,306.9 80.1,306.9 80.4,306.9 80.7,306.9 81.0,306.9 81.3,306.9 81.6,306.9 81.9,306.9 82.2,306.9 82.5,306.9 82.8,306.9 83.1,306.9 83.4,306.9 83.7,306.9 84.0,306.9 84.3,306.9 84.6,306.9 84.9,306.9 85.2,306.9 85.5,306.9 85.8,306.9 86.1,306.9 86.4,306.9 86.7,306.9 87.0,306.9 87.3,306.9 87.6,306.9 87.9,306.9 88.2,306.9 88.5,306.9 88.8,306.9 89.1,306.9 89.4,306.9 89.7,306.9 90.0,306.9 90.3,306.9 90.6,306.9 90.9,306.9 91.2,306.9 91.5,306.9 91.8,306.9 92.1,307.0 92.4,307.0 92.7,307.0 93.0,307.0 93.3,307.0 93.6,307.0 93.9,307.0 94.2,307.0 94.5,307.0 94.8,307.0 95.1,307.0 95.4,307.0 95.7,307.0 96.0,307.0 96.3,307.0 96.6,307.0 96.9,307.0 97.2,307.0 97.5,307.0 97.8,307.0 98.1,307.0 98.4,307.0 98.7,307.0 99.0,307.0 99.3,307.0 99.6,307.0 99.9,307.0 100.2,307.0 100.5,307.0 100.8,307.1 101.1,307.1 101.4,307.1 101.7,307.1 102.0,307.1 102.3,307.1 102.6,307.1 102.9,307.1 103.2,307.2 103.5,307.5 103.8,308.0 104.1,308.5 104.4,309.1 104.7,309.7 105.0,310.5 105.3,311.3 105.6,312.0 105.9,312.6 106.2,313.1 106.5,313.4 106.8,313.8 107.1,314.1 107.4,314.4 107.7,314.6 108.0,314.8 108.3,315.0 108.6,315.1 108.9,315.2 109.2,315.3 109.5,315.3 109.8,315.4 110.1,315.5 110.4,315.5 110.7,315.6 111.0,315.7 111.3,315.7 111.6,315.7 111.9,315.8 112.2,315.8 112.5,315.9 112.8,315.9 113.1,315.9 113.4,315.9 113.7,316.0 114.0,316.0 114.3,316.0 114.6,316.0 114.9,316.1 115.2,316.1 115.5,316.1 115.8,316.1 116.1,316.1 116.4,316.2 116.7,316.2 117.0,316.3 117.3,316.3 117.6,316.4 117.9,316.4 118.2,316.5 118.5,316.6 118.8,316.7 119.1,316.9 119.4,317.0 119.7,317.2 120.0,317.3 120.3,317.5 120.6,317.6 120.9,317.8 121.2,318.0 121.5,318.1 121.8,318.3 122.1,318.5 122.4,318.6 122.7,318.8 123.0,318.9 123.3,319.1 123.6,319.3 123.9,319.5 124.2,319.7 124.5,319.9 124.8,320.0 125.1,320.2 125.4,320.4 125.7,320.6 126.0,320.8 126.3,321.0 126.6,321.2 126.9,321.4 127.2,321.6 127.5,321.8 127.8,322.0 128.1,322.2 128.4,322.4 128.7,322.6 129.0,322.8 129.3,323.0 129.6,323.2 129.9,323.4 130.2,323.6 130.5,323.8 130.8,324.0 131.1,324.2 131.4,324.4 131.7,324.6 132.0,324.8 132.3,325.0 132.6,325.2 132.9,325.4 133.2,325.6 133.5,325.8 133.8,326.0 134.1,326.2 134.4,326.3 134.7,326.5 135.0,326.7 135.3,326.9 135.6,327.1 135.9,327.3 136.2,327.5 136.5,327.6 136.8,327.8 137.1,328.0 137.4,328.2 137.7,328.3 138.0,328.5 138.3,328.7 138.6,328.8 138.9,328.9 139.2,329.1 139.5,329.2 139.8,329.3 140.1,329.4 140.4,329.6 140.7,329.7 141.0,329.8 141.3,329.9 141.6,330.0 141.9,330.1 142.2,330.2 142.5,330.3 142.8,330.3 143.1,330.3 143.4,330.3 143.7,330.2 144.0,330.1 144.3,330.0 144.6,329.9 144.9,329.7 145.2,330.2 145.5,330.0 145.8,329.9 146.1,329.7 146.4,329.4 146.7,329.1 147.0,328.7 147.3,328.3 147.6,327.9 147.9,327.4 148.2,326.9 148.5,326.4 148.8,325.9 149.1,325.4 149.4,325.0 149.7,324.5 150.0,324.0 150.3,323.6 150.6,323.2 150.9,322.9 151.2,322.5 151.5,322.1 151.8,321.8 152.1,321.4 152.4,321.0 152.7,320.7 153.0,320.3 153.3,320.0 153.6,319.7 153.9,319.3 154.2,319.0 154.5,318.7 154.8,318.4 155.1,318.1 155.4,317.8 155.7,317.6 156.0,317.3 156.3,317.1 156.6,316.9 156.9,316.6 157.2,316.4 157.5,316.2 157.8,316.0 158.1,315.7 158.4,315.5 158.7,315.2 159.0,314.9 159.3,314.6 159.6,314.3 159.9,313.9 160.2,313.6 160.5,313.2 160.8,312.8 161.1,312.4 161.4,312.0 161.7,311.5 162.0,311.1 162.3,310.6 162.6,310.1 162.9,309.6 163.2,309.0 163.5,308.5 163.8,307.9 164.1,307.3 164.4,306.6 164.7,306.0 165.0,305.3 165.3,304.5 165.6,303.8 165.9,303.0 166.2,302.1 166.5,301.2 166.8,300.2 167.1,299.2 167.4,298.1 167.7,297.0 168.0,295.9 168.3,294.8 168.6,293.8 168.9,292.7 169.2,291.8 169.5,290.8 169.8,289.8 170.1,288.9 170.4,287.9 170.7,287.0 171.0,286.1 171.3,285.2 171.6,284.3 171.9,283.4 172.2,282.5 172.5,281.7 172.8,280.8 173.1,280.0 173.4,279.1 173.7,278.3 174.0,277.5 174.3,276.7 174.6,275.8 174.9,275.0 175.2,274.1 175.5,273.3 175.8,272.4 176.1,271.5 176.4,270.7 176.7,269.8 177.0,268.9 177.3,268.0 177.6,267.1 177.9,266.2 178.2,265.3 178.5,264.4 178.8,263.5 179.1,262.6 179.4,261.7 179.7,260.8 180.0,259.9 180.3,259.0 180.6,258.1 180.9,257.2 181.2,256.2 181.5,255.3 181.8,254.3 182.1,253.4 182.4,252.5 182.7,251.6 183.0,250.7 183.3,249.9 183.6,249.0 183.9,248.2 184.2,247.4 184.5,246.6 184.8,245.8 185.1,245.0 185.4,244.3 185.7,243.7 186.0,243.3 186.3,243.0 186.6,242.7 186.9,242.4 187.2,242.2 187.5,242.0 187.8,241.8 188.1,241.7 188.4,241.5 188.7,241.3 189.0,241.1 189.3,240.9 189.6,240.7 189.9,240.6 190.2,240.4 190.5,240.2 190.8,240.1 191.1,239.9 191.4,239.7 191.7,239.6 192.0,239.4 192.3,239.1 192.6,238.9 192.9,238.6 193.2,238.3 193.5,238.0 193.8,237.6 194.1,237.2 194.4,236.8 194.7,236.3 195.0,235.8 195.3,235.2 195.6,234.6 195.9,233.8 196.2,232.7 196.5,231.4 196.8,230.2 197.1,229.4 197.4,229.0 197.7,228.7 198.0,228.4 198.3,228.2 198.6,228.0 198.9,227.8 199.2,227.7 199.5,227.7 199.8,227.8 200.1,228.7 200.4,229.1 200.7,229.6 201.0,230.3 201.3,231.0 201.6,231.7 201.9,232.4 202.2,233.1 202.5,233.7 202.8,234.3 203.1,235.0 203.4,235.7 203.7,236.4 204.0,237.1 204.3,237.8 204.6,238.5 204.9,239.3 205.2,240.0 205.5,240.8 205.8,241.6 206.1,242.4 206.4,243.2 206.7,244.0 207.0,244.8 207.3,245.7 207.6,246.6 207.9,247.4 208.2,248.4 208.5,249.3 208.8,250.3 209.1,251.3 209.4,252.4 209.7,253.5 210.0,254.7 210.3,255.9 210.6,257.2 210.9,258.5 211.2,259.8 211.5,261.1 211.8,262.4 212.1,263.7 212.4,265.1 212.7,266.4 213.0,267.8 213.3,269.2 213.6,270.6 213.9,272.0 214.2,273.3 214.5,274.6 214.8,276.0 215.1,277.4 215.4,278.8 215.7,280.4 216.0,282.2 216.3,284.4 216.6,286.7 216.9,289.0 217.2,290.9 217.5,292.5 217.8,294.0 218.1,295.3 218.4,296.5 218.7,297.7 219.0,298.8 219.3,299.9 219.6,301.0 219.9,302.1 220.2,303.3 220.5,304.6 220.8,305.9 221.1,307.3 221.4,308.7 221.7,310.1 222.0,311.4 222.3,312.6 222.6,313.6 222.9,314.5 223.2,315.2 223.5,315.7 223.8,316.2 224.1,316.6 224.4,317.0 224.7,317.3 225.0,317.7 225.3,318.0 225.6,318.3 225.9,318.6 226.2,318.9 226.5,319.2 226.8,319.5 227.1,319.8 227.4,320.1 227.7,320.4 228.0,320.6 228.3,320.9 228.6,321.2 228.9,321.5 229.2,321.8 229.5,322.2 229.8,322.6 230.1,323.0 230.4,323.7 230.7,324.5 231.0,325.3 231.3,326.2 231.6,327.1 231.9,327.9 232.2,328.6 232.5,329.0 232.8,329.3 233.1,329.2 233.4,328.9 233.7,328.3 234.0,327.6 234.3,326.7 234.6,325.6 234.9,324.5 235.2,323.4 235.5,322.3 235.8,321.2 236.1,320.1 236.4,318.9 236.7,317.6 237.0,316.3 237.3,314.9 237.6,313.5 237.9,312.0 238.2,310.6 238.5,309.2 238.8,307.8 239.1,306.5 239.4,305.1 239.7,303.8 240.0,302.4 240.3,301.1 240.6,299.7 240.9,298.4 241.2,297.1 241.5,295.7 241.8,294.4 242.1,293.1 242.4,291.8 242.7,290.5 243.0,289.3 243.3,288.1 243.6,286.8 243.9,285.5 244.2,284.2 244.5,282.9 244.8,281.5 245.1,280.1 245.4,278.6 245.7,277.0 246.0,275.3 246.3,273.5 246.6,271.6 246.9,269.6 247.2,267.7 247.5,265.9 247.8,264.1 248.1,262.4 248.4,260.6 248.7,258.9 249.0,257.2 249.3,255.5 249.6,253.8 249.9,252.2 250.2,250.7 250.5,249.2 250.8,247.9 251.1,246.5 251.4,245.1 251.7,243.7 252.0,242.4 252.3,241.3 252.6,240.3 252.9,239.6 253.2,239.1 253.5,238.7 253.8,238.4 254.1,238.2 254.4,237.9 254.7,237.7 255.0,237.5 255.3,237.2 255.6,236.9 255.9,236.6 256.2,236.1 256.5,235.6 256.8,235.1 257.1,234.2 257.4,233.0 257.7,232.0 258.0,231.3 258.3,230.8 258.6,230.7 258.9,231.0 259.2,231.4 259.5,231.8 259.8,232.3 259.8,235.9 259.5,235.4 259.2,235.0 258.9,234.6 258.6,234.3 258.3,234.5 258.0,234.9 257.7,235.7 257.4,236.7 257.1,237.9 256.8,238.7 256.5,239.3 256.2,239.8 255.9,240.2 255.6,240.6 255.3,240.9 255.0,241.2 254.7,241.4 254.4,241.7 254.1,241.9 253.8,242.2 253.5,242.5 253.2,242.9 252.9,243.4 252.6,244.1 252.3,245.0 252.0,246.2 251.7,247.5 251.4,248.8 251.1,250.2 250.8,251.6 250.5,253.0 250.2,254.5 249.9,256.0 249.6,257.6 249.3,259.3 249.0,261.0 248.7,262.7 248.4,264.4 248.1,266.2 247.8,267.9 247.5,269.7 247.2,271.5 246.9,273.4 246.6,275.4 246.3,277.3 246.0,279.1 245.7,280.8 245.4,282.4 245.1,283.9 244.8,285.3 244.5,286.7 244.2,288.0 243.9,289.3 243.6,290.6 243.3,291.9 243.0,293.1 242.7,294.3 242.4,295.6 242.1,296.9 241.8,298.2 241.5,299.5 241.2,300.9 240.9,302.2 240.6,303.5 240.3,304.9 240.0,306.2 239.7,307.6 239.4,308.9 239.1,310.3 238.8,311.6 238.5,313.0 238.2,314.4 237.9,315.8 237.6,317.3 237.3,318.7 237.0,320.1 236.7,321.4 236.4,322.7 236.1,323.9 235.8,325.0 235.5,326.1 235.2,327.2 234.9,328.3 234.6,329.4 234.3,330.5 234.0,331.4 233.7,332.1 233.4,332.7 233.1,333.0 232.8,333.1 232.5,332.8 232.2,332.4 231.9,331.7 231.6,330.9 231.3,330.0 231.0,329.1 230.7,328.3 230.4,327.5 230.1,326.8 229.8,326.4 229.5,326.0 229.2,325.6 228.9,325.3 228.6,325.0 228.3,324.7 228.0,324.4 227.7,324.2 227.4,323.9 227.1,323.6 226.8,323.3 226.5,323.0 226.2,322.7 225.9,322.4 225.6,322.1 225.3,321.8 225.0,321.5 224.7,321.1 224.4,320.8 224.1,320.4 223.8,320.0 223.5,319.5 223.2,319.0 222.9,318.3 222.6,317.4 222.3,316.4 222.0,315.2 221.7,313.9 221.4,312.5 221.1,311.1 220.8,309.7 220.5,308.4 220.2,307.1 219.9,305.9 219.6,304.8 219.3,303.7 219.0,302.6 218.7,301.5 218.4,300.3 218.1,299.1 217.8,297.8 217.5,296.3 217.2,294.7 216.9,292.8 216.6,290.5 216.3,288.2 216.0,286.0 215.7,284.2 215.4,282.6 215.1,281.2 214.8,279.8 214.5,278.4 214.2,277.1 213.9,275.8 213.6,274.4 213.3,273.0 213.0,271.6 212.7,270.2 212.4,268.9 212.1,267.5 211.8,266.2 211.5,264.9 211.2,263.6 210.9,262.3 210.6,261.0 210.3,259.7 210.0,258.5 209.7,257.3 209.4,256.2 209.1,255.1 208.8,254.1 208.5,253.1 208.2,252.2 207.9,251.2 207.6,250.4 207.3,249.5 207.0,248.6 206.7,247.8 206.4,247.0 206.1,246.2 205.8,245.4 205.5,244.6 205.2,243.8 204.9,243.1 204.6,242.3 204.3,241.6 204.0,240.9 203.7,240.2 203.4,239.5 203.1,238.8 202.8,238.1 202.5,237.5 202.2,236.9 201.9,236.2 201.6,235.5 201.3,234.8 201.0,234.1 200.7,233.4 200.4,232.9 200.1,232.5 199.8,232.8 199.5,232.7 199.2,232.7 198.9,232.8 198.6,233.0 198.3,233.2 198.0,233.4 197.7,233.7 197.4,234.0 197.1,234.4 196.8,235.2 196.5,236.4 196.2,237.7 195.9,238.8 195.6,239.6 195.3,240.2 195.0,240.8 194.7,241.3 194.4,241.8 194.1,242.2 193.8,242.6 193.5,243.0 193.2,243.3 192.9,243.6 192.6,243.9 192.3,244.1 192.0,244.4 191.7,244.6 191.4,244.7 191.1,244.9 190.8,245.1 190.5,245.2 190.2,245.4 189.9,245.6 189.6,245.7 189.3,245.9 189.0,246.1 188.7,246.3 188.4,246.5 188.1,246.7 187.8,246.8 187.5,247.0 187.2,247.2 186.9,247.4 186.6,247.7 186.3,248.0 186.0,248.3 185.7,248.7 185.4,249.3 185.1,250.0 184.8,250.8 184.5,251.6 184.2,252.4 183.9,253.2 183.6,254.0 183.3,254.9 183.0,255.7 182.7,256.6 182.4,257.5 182.1,258.4 181.8,259.3 181.5,260.3 181.2,261.2 180.9,262.2 180.6,263.1 180.3,264.0 180.0,264.9 179.7,265.8 179.4,266.7 179.1,267.6 178.8,268.5 178.5,269.4 178.2,270.3 177.9,271.2 177.6,272.1 177.3,273.0 177.0,273.9 176.7,274.8 176.4,275.7 176.1,276.5 175.8,277.4 175.5,278.3 175.2,279.1 174.9,280.0 174.6,280.8 174.3,281.7 174.0,282.5 173.7,283.3 173.4,284.1 173.1,285.0 172.8,285.8 172.5,286.7 172.2,287.5 171.9,288.4 171.6,289.3 171.3,290.2 171.0,291.1 170.7,292.0 170.4,292.9 170.1,293.9 169.8,294.8 169.5,295.8 169.2,296.8 168.9,297.7 168.6,298.8 168.3,299.8 168.0,300.9 167.7,302.0 167.4,303.1 167.1,304.2 166.8,305.2 166.5,306.2 166.2,307.1 165.9,308.0 165.6,308.8 165.3,309.5 165.0,310.3 164.7,311.0 164.4,311.6 164.1,312.3 163.8,312.9 163.5,313.5 163.2,314.0 162.9,314.6 162.6,315.1 162.3,315.6 162.0,316.1 161.7,316.5 161.4,317.0 161.1,317.4 160.8,317.8 160.5,318.2 160.2,318.6 159.9,318.9 159.6,319.3 159.3,319.6 159.0,319.9 158.7,320.2 158.4,320.5 158.1,320.7 157.8,321.0 157.5,321.2 157.2,321.4 156.9,321.6 156.6,321.9 156.3,322.1 156.0,322.3 155.7,322.6 155.4,322.8 155.1,323.1 154.8,323.4 154.5,323.7 154.2,324.0 153.9,324.3 153.6,324.7 153.3,325.0 153.0,325.3 152.7,325.7 152.4,326.0 152.1,326.4 151.8,326.8 151.5,327.1 151.2,327.5 150.9,327.9 150.6,328.2 150.3,328.6 150.0,329.0 149.7,329.5 149.4,330.0 149.1,330.4 148.8,330.9 148.5,331.4 148.2,331.9 147.9,332.4 147.6,332.9 147.3,333.3 147.0,333.7 146.7,334.1 146.4,334.4 146.1,334.7 145.8,334.9 145.5,335.0 145.2,335.2 144.9,336.1 144.6,336.3 144.3,336.4 144.0,336.5 143.7,336.6 143.4,336.7 143.1,336.7 142.8,336.7 142.5,336.7 142.2,336.6 141.9,336.5 141.6,336.4 141.3,336.3 141.0,336.2 140.7,336.1 140.4,336.0 140.1,335.8 139.8,335.7 139.5,335.6 139.2,335.5 138.9,335.3 138.6,335.2 138.3,335.1 138.0,334.9 137.7,334.7 137.4,334.6 137.1,334.4 136.8,334.2 136.5,334.0 136.2,333.9 135.9,333.7 135.6,333.5 135.3,333.3 135.0,333.1 134.7,332.9 134.4,332.7 134.1,332.6 133.8,332.4 133.5,332.2 133.2,332.0 132.9,331.8 132.6,331.6 132.3,331.4 132.0,331.2 131.7,331.0 131.4,330.8 131.1,330.6 130.8,330.4 130.5,330.2 130.2,330.0 129.9,329.8 129.6,329.6 129.3,329.4 129.0,329.2 128.7,329.0 128.4,328.8 128.1,328.6 127.8,328.4 127.5,328.2 127.2,328.0 126.9,327.8 126.6,327.6 126.3,327.4 126.0,327.2 125.7,327.0 125.4,326.8 125.1,326.6 124.8,326.4 124.5,326.3 124.2,326.1 123.9,325.9 123.6,325.7 123.3,325.5 123.0,325.3 122.7,325.2 122.4,325.0 122.1,324.9 121.8,324.7 121.5,324.5 121.2,324.4 120.9,324.2 120.6,324.0 120.3,323.9 120.0,323.7 119.7,323.6 119.4,323.4 119.1,323.3 118.8,323.1 118.5,323.0 118.2,322.9 117.9,322.8 117.6,322.8 117.3,322.7 117.0,322.7 116.7,322.6 116.4,322.6 116.1,322.5 115.8,322.5 115.5,322.5 115.2,322.5 114.9,322.5 114.6,322.4 114.3,322.4 114.0,322.4 113.7,322.4 113.4,322.3 113.1,322.3 112.8,322.3 112.5,322.3 112.2,322.2 111.9,322.2 111.6,322.1 111.3,322.1 111.0,322.1 110.7,322.0 110.4,321.9 110.1,321.9 109.8,321.8 109.5,321.7 109.2,321.7 108.9,321.6 108.6,321.5 108.3,321.4 108.0,321.2 107.7,321.0 107.4,320.8 107.1,320.5 106.8,320.2 106.5,319.8 106.2,319.5 105.9,319.0 105.6,318.4 105.3,317.7 105.0,316.9 104.7,316.1 104.4,315.5 104.1,314.9 103.8,314.2 103.5,313.7 103.2,313.4 102.9,313.3 102.6,313.3 102.3,313.3 102.0,313.3 101.7,313.3 101.4,313.3 101.1,313.3 100.8,313.3 100.5,313.2 100.2,313.2 99.9,313.2 99.6,313.2 99.3,313.2 99.0,313.2 98.7,313.2 98.4,313.2 98.1,313.2 97.8,313.2 97.5,313.2 97.2,313.2 96.9,313.2 96.6,313.2 96.3,313.2 96.0,313.2 95.7,313.2 95.4,313.2 95.1,313.2 94.8,313.2 94.5,313.2 94.2,313.2 93.9,313.2 93.6,313.2 93.3,313.2 93.0,313.2 92.7,313.2 92.4,313.2 92.1,313.2 91.8,313.1 91.5,313.1 91.2,313.1 90.9,313.1 90.6,313.1 90.3,313.1 90.0,313.1 89.7,313.1 89.4,313.1 89.1,313.1 88.8,313.1 88.5,313.1 88.2,313.1 87.9,313.1 87.6,313.1 87.3,313.1 87.0,313.1 86.7,313.1 86.4,313.1 86.1,313.1 85.8,313.1 85.5,313.1 85.2,313.1 84.9,313.1 84.6,313.1 84.3,313.1 84.0,313.1 83.7,313.1 83.4,313.1 83.1,313.1 82.8,313.1 82.5,313.1 82.2,313.1 81.9,313.1 81.6,313.1 81.3,313.1 81.0,313.1 80.7,313.1 80.4,313.1 80.1,313.1 79.8,313.1 79.5,313.1 79.2,313.1 78.9,313.1 78.6,313.1 78.3,313.1 78.0,313.1 77.7,313.1 77.4,313.1 77.1,313.1 76.8,313.1 76.5,313.1 76.2,313.1 75.9,313.1 75.6,313.1 75.3,313.1 75.0,313.1 74.7,313.1 74.4,313.1 74.1,313.1 73.8,313.1 73.5,313.1 73.2,313.1 72.9,313.1 72.6,313.1 72.3,313.1 72.0,313.1 71.7,313.1 71.4,313.1 71.1,313.1 70.8,313.1 70.5,313.1 70.2,313.1 69.9,313.1 69.6,313.1 69.3,313.1 69.0,313.1 68.7,313.1 68.4,313.1 68.1,313.1 67.8,313.1 67.5,313.1 67.2,313.1 66.9,313.1 66.6,313.1 66.3,313.1 66.0,313.1 65.7,313.1 65.4,313.0 65.1,313.0 64.8,313.0 64.5,313.0 64.2,313.0 63.9,313.0 63.6,313.0 63.3,313.0 63.0,313.0 62.7,313.0 62.4,313.0 62.1,313.0 61.8,313.0 61.5,313.0 61.2,313.0 60.9,313.0 60.6,313.0 60.3,313.0 60.0,313.0 59.7,313.0 59.4,312.9 59.1,312.9 58.8,312.8 58.5,312.7 58.2,312.7 57.9,312.6 57.6,312.5" fill="#3db73d" stroke="#30a030" stroke-width="1.1" stroke-linejoin="round"/>
<polygon points="259.7,232.2 260.0,232.7 260.3,233.3 260.6,234.0 260.9,234.8 261.2,235.6 261.5,236.5 261.8,237.5 262.1,238.5 262.4,239.5 262.7,240.7 263.0,241.8 263.3,243.1 263.6,244.4 263.9,245.7 264.2,247.1 264.5,248.6 264.8,250.1 265.1,251.6 265.4,253.2 265.7,254.8 266.0,256.4 266.3,258.1 266.6,259.8 266.9,261.6 267.2,263.4 267.5,265.2 267.8,267.0 268.1,268.8 268.4,270.7 268.7,272.6 269.0,274.5 269.3,276.4 269.6,278.3 269.9,280.2 270.2,282.1 270.5,284.0 270.8,285.9 271.1,287.8 271.4,289.6 271.7,291.5 272.0,293.3 272.3,295.1 272.6,296.9 272.9,298.7 273.2,300.4 273.5,302.1 273.8,303.7 274.1,305.3 274.4,306.9 274.7,308.4 275.0,309.9 275.3,311.3 275.6,312.7 275.9,314.0 276.2,315.2 276.5,316.4 276.8,317.5 277.1,318.6 277.4,319.6 277.7,320.5 278.0,321.3 278.3,322.0 278.6,322.7 278.9,323.3 279.2,323.8 279.5,324.2 279.8,324.6 280.1,324.9 280.4,325.1 280.7,325.2 281.0,325.2 281.3,325.1 281.6,325.0 281.9,324.7 282.2,324.4 282.5,324.0 282.8,323.4 283.1,322.8 283.4,322.1 283.7,321.3 284.0,320.5 284.3,319.5 284.6,318.4 284.9,317.3 285.2,316.1 285.5,314.8 285.8,313.4 286.1,311.9 286.4,310.4 286.7,308.7 287.0,307.1 287.3,305.3 287.6,303.5 287.9,301.6 288.2,299.7 288.5,297.7 288.8,295.7 289.1,293.6 289.4,291.5 289.7,289.3 290.0,287.1 290.3,284.9 290.6,282.7 290.9,280.5 291.2,278.2 291.5,275.9 291.8,273.7 292.1,271.4 292.4,269.2 292.7,267.0 293.0,264.8 293.3,262.7 293.6,260.5 293.9,258.5 294.2,256.5 294.5,254.5 294.8,252.6 295.1,250.7 295.4,249.0 295.7,247.3 296.0,245.6 296.3,244.1 296.6,242.6 296.9,241.2 297.2,239.9 297.5,238.7 297.8,237.7 298.1,236.7 298.4,235.8 298.7,235.0 299.0,234.3 299.3,233.7 299.6,233.3 299.9,232.9 300.2,232.7 300.5,232.6 300.8,232.6 301.1,232.8 301.4,233.0 301.7,233.4 302.0,233.8 302.3,234.4 302.6,235.1 302.9,235.9 303.2,236.9 303.5,237.9 303.8,239.0 304.1,240.3 304.4,241.6 304.7,243.0 305.0,244.6 305.3,246.2 305.6,247.9 305.9,249.7 306.2,251.5 306.5,253.5 306.8,255.5 307.1,257.5 307.4,259.7 307.7,261.8 308.0,264.1 308.3,266.3 308.6,268.6 308.9,271.0 309.2,273.3 309.5,275.7 309.8,278.1 310.1,280.5 310.4,282.9 310.7,285.3 311.0,287.6 311.3,290.0 311.6,292.3 311.9,294.6 312.2,296.8 312.5,299.0 312.8,301.2 313.1,303.3 313.4,305.3 313.7,307.3 314.0,309.1 314.3,311.0 314.6,312.7 314.9,314.3 315.2,315.8 315.5,317.3 315.8,318.6 316.1,319.8 316.4,320.9 316.7,321.9 317.0,322.8 317.3,323.6 317.6,324.2 317.9,324.7 318.2,325.1 318.5,325.4 318.8,325.5 319.1,325.5 319.4,325.4 319.7,325.2 320.0,324.8 320.3,324.2 320.6,323.6 320.9,322.8 321.2,321.9 321.5,320.9 321.8,319.7 322.1,318.5 322.4,317.1 322.7,315.6 323.0,313.9 323.3,312.2 323.6,310.4 323.9,308.5 324.2,306.5 324.5,304.4 324.8,302.2 325.1,300.0 325.4,297.6 325.7,295.3 326.0,292.8 326.3,290.4 326.6,287.9 326.9,285.3 327.2,282.8 327.5,280.2 327.8,277.6 328.1,275.0 328.4,272.4 328.7,269.8 329.0,267.3 329.3,264.8 329.6,262.3 329.9,259.9 330.2,257.5 330.5,255.2 330.8,253.0 331.1,250.8 331.4,248.7 331.7,246.8 332.0,244.9 332.3,243.1 332.6,241.4 332.9,239.9 333.2,238.5 333.5,237.2 333.8,236.0 334.1,235.0 334.4,234.1 334.7,233.4 335.0,232.8 335.3,232.4 335.6,232.1 335.9,232.0 336.2,232.0 336.5,232.2 336.8,232.6 337.1,233.1 337.4,233.7 337.7,234.5 338.0,235.5 338.3,236.6 338.6,237.9 338.9,239.3 339.2,240.8 339.5,242.5 339.8,244.3 340.1,246.3 340.4,248.3 340.7,250.5 341.0,252.7 341.3,255.1 341.6,257.6 341.9,260.1 342.2,262.7 342.5,265.4 342.8,268.1 343.1,270.9 343.4,273.7 343.7,276.5 344.0,279.4 344.3,282.2 344.6,285.1 344.9,287.9 345.2,290.7 345.5,293.5 345.8,296.2 346.1,298.9 346.4,301.5 346.7,304.1 347.0,306.5 347.3,308.9 347.6,311.2 347.9,313.3 348.2,315.3 348.5,317.3 348.8,319.0 349.1,320.7 349.4,322.1 349.7,323.5 350.0,324.6 350.3,325.6 350.6,326.5 350.9,327.1 351.2,327.6 351.5,327.9 351.8,328.0 352.1,328.0 352.4,327.7 352.7,327.3 353.0,326.7 353.3,325.9 353.6,324.9 353.9,323.8 354.2,322.5 354.5,321.0 354.8,319.3 355.1,317.5 355.4,315.6 355.7,313.5 356.0,311.3 356.3,308.9 356.6,306.5 356.9,303.9 357.2,301.2 357.5,298.5 357.8,295.6 358.1,292.7 358.4,289.7 358.7,286.7 359.0,283.7 359.3,280.6 359.6,277.5 359.9,274.5 360.2,271.4 360.5,268.4 360.8,265.4 361.1,262.5 361.4,259.6 361.7,256.8 362.0,254.1 362.3,251.5 362.6,249.0 362.9,246.6 363.2,244.3 363.5,242.2 363.8,240.3 364.1,238.5 364.4,236.8 364.7,235.4 365.0,234.1 365.3,233.0 365.6,232.1 365.9,231.4 366.2,231.0 366.5,230.7 366.8,230.6 367.1,230.8 367.4,231.1 367.7,231.7 368.0,232.5 368.3,233.5 368.6,234.6 368.9,236.0 369.2,237.6 369.5,239.3 369.8,241.3 370.1,243.4 370.4,245.6 370.7,248.0 371.0,250.6 371.3,253.3 371.6,256.1 371.9,259.0 372.2,262.1 372.5,265.2 372.8,268.3 373.1,271.6 373.4,274.8 373.7,278.1 374.0,281.4 374.3,284.7 374.6,288.0 374.9,291.2 375.2,294.4 375.5,297.6 375.8,300.6 376.1,303.6 376.4,306.4 376.7,309.2 377.0,311.8 377.3,314.2 377.6,316.5 377.9,318.6 378.2,320.6 378.5,322.3 378.8,323.9 379.1,325.3 379.4,326.4 379.7,327.3 380.0,328.0 380.3,328.5 380.6,328.7 380.9,328.7 381.2,328.5 381.5,328.0 381.8,327.3 382.1,326.4 382.4,325.2 382.7,323.8 383.0,322.3 383.3,320.5 383.6,318.5 383.9,316.3 384.2,313.9 384.5,311.4 384.8,308.7 385.1,305.8 385.4,302.9 385.7,299.8 386.0,296.6 386.3,293.3 386.6,290.0 386.9,286.6 387.2,283.2 387.5,279.7 387.8,276.2 388.1,272.8 388.4,269.4 388.7,266.0 389.0,262.7 389.3,259.5 389.6,256.3 389.9,253.3 390.2,250.4 390.5,247.7 390.8,245.1 391.1,242.7 391.4,240.5 391.7,238.5 392.0,236.7 392.3,235.1 392.6,233.7 392.9,232.6 393.2,231.7 393.5,231.1 393.8,230.7 394.1,230.6 394.4,230.8 394.7,231.2 395.0,231.9 395.3,232.8 395.6,234.0 395.9,235.4 396.2,237.1 396.5,239.0 396.8,241.1 397.1,243.4 397.4,246.0 397.7,248.7 398.0,251.6 398.3,254.6 398.6,257.8 398.9,261.1 399.2,264.5 399.5,268.0 399.8,271.6 400.1,275.2 400.4,278.9 400.7,282.5 401.0,286.2 401.3,289.8 401.6,293.4 401.9,296.8 402.2,300.2 402.5,303.5 402.8,306.7 403.1,309.7 403.4,312.5 403.7,315.2 404.0,317.6 404.3,319.9 404.6,321.9 404.9,323.6 405.2,325.2 405.5,326.4 405.8,327.4 406.1,328.2 406.4,328.6 406.7,328.8 407.0,328.7 407.3,328.3 407.6,327.6 407.9,326.7 408.2,325.4 408.5,323.9 408.8,322.2 409.1,320.2 409.4,318.0 409.7,315.5 410.0,312.8 410.3,310.0 410.6,306.9 410.9,303.7 411.2,300.4 411.5,296.9 411.8,293.3 412.1,289.7 412.4,286.0 412.7,282.2 413.0,278.4 413.3,274.7 413.6,270.9 413.9,267.2 414.2,263.6 414.5,260.1 414.8,256.7 415.1,253.4 415.4,250.3 415.7,247.3 416.0,244.6 416.3,242.0 416.6,239.7 416.9,237.6 417.2,235.8 417.5,234.2 417.8,232.9 418.1,231.9 418.4,231.2 418.7,230.7 419.0,230.6 419.3,230.7 419.6,231.2 419.9,231.9 420.2,233.0 420.5,234.3 420.8,235.9 421.1,237.8 421.4,240.0 421.7,242.4 422.0,245.0 422.3,247.8 422.6,250.9 422.9,254.1 423.2,257.5 423.5,261.0 423.8,264.7 424.1,268.4 424.4,272.2 424.7,276.1 425.0,280.0 425.3,283.9 425.6,287.8 425.9,291.6 426.2,295.4 426.5,299.0 426.8,302.6 427.1,306.0 427.4,309.2 427.7,312.3 428.0,315.1 428.3,317.7 428.6,320.1 428.9,322.2 429.2,324.1 429.5,325.6 429.8,326.9 430.1,327.8 430.4,328.5 430.7,328.8 431.0,328.8 431.3,328.5 431.6,327.8 431.9,326.9 432.2,325.6 432.5,324.0 432.8,322.1 433.1,320.0 433.4,317.5 433.7,314.9 434.0,311.9 434.3,308.8 434.6,305.4 434.9,301.9 435.2,298.2 435.5,294.4 435.8,290.5 436.1,286.5 436.4,282.4 436.7,278.3 437.0,274.3 437.3,270.2 437.6,266.2 437.9,262.3 438.2,258.6 438.5,254.9 438.8,251.5 439.1,248.2 439.4,245.1 439.7,242.3 440.0,239.7 440.3,237.5 440.6,235.5 440.9,233.8 441.2,232.5 441.5,231.5 441.8,230.8 442.1,230.5 442.4,230.6 442.7,231.0 443.0,231.8 443.3,232.9 443.6,234.4 443.9,236.2 444.2,238.3 444.5,240.8 444.8,243.5 445.1,246.5 445.4,249.8 445.7,253.3 446.0,256.9 446.3,260.8 446.6,264.8 446.9,268.9 447.2,273.1 447.5,277.4 447.8,281.7 448.1,285.9 448.4,290.1 448.7,294.3 449.0,298.3 449.3,302.2 449.6,306.0 449.9,309.5 450.2,312.8 450.5,315.9 450.8,318.6 451.1,321.1 451.4,323.3 451.7,325.1 452.0,326.6 452.3,327.7 452.6,328.5 452.9,328.9 453.2,328.9 453.5,328.5 453.8,327.7 454.1,326.6 454.4,325.1 454.7,323.2 455.0,321.1 455.3,318.6 455.6,315.8 455.9,312.7 456.2,309.3 456.5,305.8 456.8,302.0 457.1,298.0 457.4,293.9 457.7,289.7 458.0,285.5 458.3,281.1 458.6,276.8 458.9,272.5 459.2,268.2 459.5,264.1 459.8,260.0 460.1,256.1 460.4,252.4 460.7,248.9 461.0,245.7 461.3,242.7 461.6,240.0 461.9,237.6 462.2,235.5 462.5,233.7 462.8,232.4 463.1,231.4 463.4,230.7 463.7,230.5 464.0,230.6 464.3,231.1 464.6,232.0 464.9,233.3 465.2,234.9 465.5,236.9 465.8,239.2 466.1,241.9 466.4,244.8 466.7,248.0 467.0,251.5 467.3,255.2 467.6,259.1 467.9,263.2 468.2,267.3 468.5,271.6 468.8,276.0 469.1,280.4 469.4,284.8 469.7,289.1 470.0,293.4 470.3,297.6 470.6,301.6 470.9,305.5 471.2,309.2 471.5,312.6 471.8,315.8 472.1,318.6 472.4,321.2 472.7,323.4 473.0,325.3 473.3,326.8 473.6,327.9 473.9,328.6 474.2,328.9 474.5,328.8 474.8,328.3 475.1,327.4 475.4,326.1 475.7,324.4 476.0,322.4 476.3,319.9 476.6,317.2 476.9,314.1 477.2,310.7 477.5,307.0 477.8,303.1 478.1,299.0 478.4,294.7 478.7,290.3 479.0,285.8 479.3,281.2 479.6,276.6 479.9,272.1 480.2,267.5 480.5,263.1 480.8,258.8 481.1,254.7 481.4,250.9 481.7,247.2 482.0,243.9 482.3,240.8 482.6,238.1 482.9,235.8 483.2,233.9 483.5,232.4 483.8,231.3 484.1,230.6 484.4,230.4 484.7,230.7 485.0,231.4 485.3,232.5 485.6,234.1 485.9,236.1 486.2,238.6 486.5,241.4 486.8,244.5 487.1,248.0 487.4,251.9 487.7,255.9 488.0,260.2 488.3,264.7 488.6,269.4 488.9,274.1 489.2,278.9 489.5,283.8 489.8,288.5 490.1,293.2 490.4,297.8 490.7,302.2 491.0,306.4 491.3,310.4 491.6,314.0 491.9,317.4 492.2,320.3 492.5,322.9 492.8,325.0 493.1,326.7 493.4,328.0 493.4,331.0 493.1,329.7 492.8,328.0 492.5,325.9 492.2,323.3 491.9,320.4 491.6,317.0 491.3,313.4 491.0,309.4 490.7,305.2 490.4,300.8 490.1,296.2 489.8,291.5 489.5,286.8 489.2,281.9 488.9,277.1 488.6,272.4 488.3,267.7 488.0,263.2 487.7,258.9 487.4,254.9 487.1,251.0 486.8,247.5 486.5,244.4 486.2,241.6 485.9,239.1 485.6,237.1 485.3,235.5 485.0,234.4 484.7,233.7 484.4,233.4 484.1,233.6 483.8,234.3 483.5,235.4 483.2,236.9 482.9,238.8 482.6,241.1 482.3,243.8 482.0,246.9 481.7,250.2 481.4,253.9 481.1,257.7 480.8,261.8 480.5,266.1 480.2,270.5 479.9,275.1 479.6,279.6 479.3,284.2 479.0,288.8 478.7,293.3 478.4,297.7 478.1,302.0 477.8,306.1 477.5,310.0 477.2,313.7 476.9,317.1 476.6,320.2 476.3,322.9 476.0,325.4 475.7,327.4 475.4,329.1 475.1,330.4 474.8,331.3 474.5,331.8 474.2,331.9 473.9,331.6 473.6,330.9 473.3,329.8 473.0,328.3 472.7,326.4 472.4,324.2 472.1,321.6 471.8,318.8 471.5,315.6 471.2,312.2 470.9,308.5 470.6,304.6 470.3,300.6 470.0,296.4 469.7,292.1 469.4,287.8 469.1,283.4 468.8,279.0 468.5,274.6 468.2,270.3 467.9,266.2 467.6,262.1 467.3,258.2 467.0,254.5 466.7,251.0 466.4,247.8 466.1,244.9 465.8,242.2 465.5,239.9 465.2,237.9 464.9,236.3 464.6,235.0 464.3,234.1 464.0,233.6 463.7,233.5 463.4,233.7 463.1,234.4 462.8,235.4 462.5,236.7 462.2,238.5 461.9,240.6 461.6,243.0 461.3,245.7 461.0,248.7 460.7,251.9 460.4,255.4 460.1,259.1 459.8,263.0 459.5,267.1 459.2,271.2 458.9,275.5 458.6,279.8 458.3,284.1 458.0,288.5 457.7,292.7 457.4,296.9 457.1,301.0 456.8,305.0 456.5,308.8 456.2,312.3 455.9,315.7 455.6,318.8 455.3,321.6 455.0,324.1 454.7,326.2 454.4,328.1 454.1,329.6 453.8,330.7 453.5,331.5 453.2,331.9 452.9,331.9 452.6,331.5 452.3,330.7 452.0,329.6 451.7,328.1 451.4,326.3 451.1,324.1 450.8,321.6 450.5,318.9 450.2,315.8 449.9,312.5 449.6,309.0 449.3,305.2 449.0,301.3 448.7,297.3 448.4,293.1 448.1,288.9 447.8,284.7 447.5,280.4 447.2,276.1 446.9,271.9 446.6,267.8 446.3,263.8 446.0,259.9 445.7,256.3 445.4,252.8 445.1,249.5 444.8,246.5 444.5,243.8 444.2,241.3 443.9,239.2 443.6,237.4 443.3,235.9 443.0,234.8 442.7,234.0 442.4,233.6 442.1,233.5 441.8,233.8 441.5,234.5 441.2,235.5 440.9,236.8 440.6,238.5 440.3,240.5 440.0,242.7 439.7,245.3 439.4,248.1 439.1,251.2 438.8,254.5 438.5,257.9 438.2,261.6 437.9,265.3 437.6,269.2 437.3,273.2 437.0,277.3 436.7,281.3 436.4,285.4 436.1,289.5 435.8,293.5 435.5,297.4 435.2,301.2 434.9,304.9 434.6,308.4 434.3,311.8 434.0,314.9 433.7,317.9 433.4,320.5 433.1,323.0 432.8,325.1 432.5,327.0 432.2,328.6 431.9,329.9 431.6,330.8 431.3,331.5 431.0,331.8 430.7,331.8 430.4,331.5 430.1,330.8 429.8,329.9 429.5,328.6 429.2,327.1 428.9,325.2 428.6,323.1 428.3,320.7 428.0,318.1 427.7,315.3 427.4,312.2 427.1,309.0 426.8,305.6 426.5,302.0 426.2,298.4 425.9,294.6 425.6,290.8 425.3,286.9 425.0,283.0 424.7,279.1 424.4,275.2 424.1,271.4 423.8,267.7 423.5,264.0 423.2,260.5 422.9,257.1 422.6,253.9 422.3,250.8 422.0,248.0 421.7,245.4 421.4,243.0 421.1,240.8 420.8,238.9 420.5,237.3 420.2,236.0 419.9,234.9 419.6,234.2 419.3,233.7 419.0,233.6 418.7,233.7 418.4,234.2 418.1,234.9 417.8,235.9 417.5,237.2 417.2,238.8 416.9,240.6 416.6,242.7 416.3,245.0 416.0,247.6 415.7,250.3 415.4,253.3 415.1,256.4 414.8,259.7 414.5,263.1 414.2,266.6 413.9,270.2 413.6,273.9 413.3,277.7 413.0,281.4 412.7,285.2 412.4,289.0 412.1,292.7 411.8,296.3 411.5,299.9 411.2,303.4 410.9,306.7 410.6,309.9 410.3,313.0 410.0,315.8 409.7,318.5 409.4,321.0 409.1,323.2 408.8,325.2 408.5,326.9 408.2,328.4 407.9,329.7 407.6,330.6 407.3,331.3 407.0,331.7 406.7,331.8 406.4,331.6 406.1,331.2 405.8,330.4 405.5,329.4 405.2,328.2 404.9,326.6 404.6,324.9 404.3,322.9 404.0,320.6 403.7,318.2 403.4,315.5 403.1,312.7 402.8,309.7 402.5,306.5 402.2,303.2 401.9,299.8 401.6,296.4 401.3,292.8 401.0,289.2 400.7,285.5 400.4,281.9 400.1,278.2 399.8,274.6 399.5,271.0 399.2,267.5 398.9,264.1 398.6,260.8 398.3,257.6 398.0,254.6 397.7,251.7 397.4,249.0 397.1,246.4 396.8,244.1 396.5,242.0 396.2,240.1 395.9,238.4 395.6,237.0 395.3,235.8 395.0,234.9 394.7,234.2 394.4,233.8 394.1,233.6 393.8,233.7 393.5,234.1 393.2,234.7 392.9,235.6 392.6,236.7 392.3,238.1 392.0,239.7 391.7,241.5 391.4,243.5 391.1,245.7 390.8,248.1 390.5,250.7 390.2,253.4 389.9,256.3 389.6,259.3 389.3,262.5 389.0,265.7 388.7,269.0 388.4,272.4 388.1,275.8 387.8,279.2 387.5,282.7 387.2,286.2 386.9,289.6 386.6,293.0 386.3,296.3 386.0,299.6 385.7,302.8 385.4,305.9 385.1,308.8 384.8,311.7 384.5,314.4 384.2,316.9 383.9,319.3 383.6,321.5 383.3,323.5 383.0,325.3 382.7,326.8 382.4,328.2 382.1,329.4 381.8,330.3 381.5,331.0 381.2,331.5 380.9,331.7 380.6,331.7 380.3,331.5 380.0,331.0 379.7,330.3 379.4,329.4 379.1,328.3 378.8,326.9 378.5,325.3 378.2,323.6 377.9,321.6 377.6,319.5 377.3,317.2 377.0,314.8 376.7,312.2 376.4,309.4 376.1,306.6 375.8,303.6 375.5,300.6 375.2,297.4 374.9,294.2 374.6,291.0 374.3,287.7 374.0,284.4 373.7,281.1 373.4,277.8 373.1,274.6 372.8,271.3 372.5,268.2 372.2,265.1 371.9,262.0 371.6,259.1 371.3,256.3 371.0,253.6 370.7,251.0 370.4,248.6 370.1,246.4 369.8,244.3 369.5,242.3 369.2,240.6 368.9,239.0 368.6,237.6 368.3,236.5 368.0,235.5 367.7,234.7 367.4,234.1 367.1,233.8 366.8,233.6 366.5,233.7 366.2,234.0 365.9,234.4 365.6,235.1 365.3,236.0 365.0,237.1 364.7,238.4 364.4,239.8 364.1,241.5 363.8,243.3 363.5,245.2 363.2,247.3 362.9,249.6 362.6,252.0 362.3,254.5 362.0,257.1 361.7,259.8 361.4,262.6 361.1,265.5 360.8,268.4 360.5,271.4 360.2,274.4 359.9,277.5 359.6,280.5 359.3,283.6 359.0,286.7 358.7,289.7 358.4,292.7 358.1,295.7 357.8,298.6 357.5,301.5 357.2,304.2 356.9,306.9 356.6,309.5 356.3,311.9 356.0,314.3 355.7,316.5 355.4,318.6 355.1,320.5 354.8,322.3 354.5,324.0 354.2,325.5 353.9,326.8 353.6,327.9 353.3,328.9 353.0,329.7 352.7,330.3 352.4,330.7 352.1,331.0 351.8,331.0 351.5,330.9 351.2,330.6 350.9,330.1 350.6,329.5 350.3,328.6 350.0,327.6 349.7,326.5 349.4,325.1 349.1,323.7 348.8,322.0 348.5,320.3 348.2,318.3 347.9,316.3 347.6,314.2 347.3,311.9 347.0,309.5 346.7,307.1 346.4,304.5 346.1,301.9 345.8,299.2 345.5,296.5 345.2,293.7 344.9,290.9 344.6,288.1 344.3,285.2 344.0,282.4 343.7,279.5 343.4,276.7 343.1,273.9 342.8,271.1 342.5,268.4 342.2,265.7 341.9,263.1 341.6,260.6 341.3,258.1 341.0,255.7 340.7,253.5 340.4,251.3 340.1,249.3 339.8,247.3 339.5,245.5 339.2,243.8 338.9,242.3 338.6,240.9 338.3,239.6 338.0,238.5 337.7,237.5 337.4,236.7 337.1,236.1 336.8,235.6 336.5,235.2 336.2,235.0 335.9,235.0 335.6,235.1 335.3,235.4 335.0,235.8 334.7,236.4 334.4,237.1 334.1,238.0 333.8,239.0 333.5,240.2 333.2,241.5 332.9,242.9 332.6,244.4 332.3,246.1 332.0,247.9 331.7,249.8 331.4,251.7 331.1,253.8 330.8,256.0 330.5,258.2 330.2,260.5 329.9,262.9 329.6,265.3 329.3,267.8 329.0,270.3 328.7,272.8 328.4,275.4 328.1,278.0 327.8,280.6 327.5,283.2 327.2,285.8 326.9,288.3 326.6,290.9 326.3,293.4 326.0,295.8 325.7,298.3 325.4,300.6 325.1,303.0 324.8,305.2 324.5,307.4 324.2,309.5 323.9,311.5 323.6,313.4 323.3,315.2 323.0,316.9 322.7,318.6 322.4,320.1 322.1,321.5 321.8,322.7 321.5,323.9 321.2,324.9 320.9,325.8 320.6,326.6 320.3,327.2 320.0,327.8 319.7,328.2 319.4,328.4 319.1,328.5 318.8,328.5 318.5,328.4 318.2,328.1 317.9,327.7 317.6,327.2 317.3,326.6 317.0,325.8 316.7,324.9 316.4,323.9 316.1,322.8 315.8,321.6 315.5,320.3 315.2,318.8 314.9,317.3 314.6,315.7 314.3,314.0 314.0,312.1 313.7,310.3 313.4,308.3 313.1,306.3 312.8,304.2 312.5,302.0 312.2,299.8 311.9,297.6 311.6,295.3 311.3,293.0 311.0,290.6 310.7,288.3 310.4,285.9 310.1,283.5 309.8,281.1 309.5,278.7 309.2,276.3 308.9,274.0 308.6,271.6 308.3,269.3 308.0,267.1 307.7,264.8 307.4,262.7 307.1,260.5 306.8,258.5 306.5,256.5 306.2,254.5 305.9,252.7 305.6,250.9 305.3,249.2 305.0,247.6 304.7,246.0 304.4,244.6 304.1,243.3 303.8,242.0 303.5,240.9 303.2,239.9 302.9,238.9 302.6,238.1 302.3,237.4 302.0,236.8 301.7,236.4 301.4,236.0 301.1,235.8 300.8,235.6 300.5,235.6 300.2,235.7 299.9,235.9 299.6,236.3 299.3,236.7 299.0,237.3 298.7,238.0 298.4,238.8 298.1,239.7 297.8,240.7 297.5,241.7 297.2,242.9 296.9,244.2 296.6,245.6 296.3,247.1 296.0,248.6 295.7,250.3 295.4,252.0 295.1,253.7 294.8,255.6 294.5,257.5 294.2,259.5 293.9,261.5 293.6,263.5 293.3,265.7 293.0,267.8 292.7,270.0 292.4,272.2 292.1,274.4 291.8,276.7 291.5,278.9 291.2,281.2 290.9,283.5 290.6,285.7 290.3,287.9 290.0,290.1 289.7,292.3 289.4,294.5 289.1,296.6 288.8,298.7 288.5,300.7 288.2,302.7 287.9,304.7 287.6,306.5 287.3,308.4 287.0,310.1 286.7,311.8 286.4,313.4 286.1,315.0 285.8,316.4 285.5,317.8 285.2,319.2 284.9,320.4 284.6,321.5 284.3,322.6 284.0,323.6 283.7,324.5 283.4,325.3 283.1,326.0 282.8,326.6 282.5,327.1 282.2,327.6 281.9,327.9 281.6,328.1 281.3,328.3 281.0,328.4 280.7,328.4 280.4,328.3 280.1,328.1 279.8,327.8 279.5,327.5 279.2,327.0 278.9,326.5 278.6,325.9 278.3,325.3 278.0,324.5 277.7,323.7 277.4,322.8 277.1,321.8 276.8,320.8 276.5,319.7 276.2,318.5 275.9,317.3 275.6,316.0 275.3,314.6 275.0,313.2 274.7,311.7 274.4,310.2 274.1,308.7 273.8,307.0 273.5,305.4 273.2,303.7 272.9,302.0 272.6,300.2 272.3,298.5 272.0,296.7 271.7,294.8 271.4,293.0 271.1,291.1 270.8,289.3 270.5,287.4 270.2,285.5 269.9,283.6 269.6,281.7 269.3,279.8 269.0,277.9 268.7,276.0 268.4,274.1 268.1,272.3 267.8,270.4 267.5,268.6 267.2,266.8 266.9,265.1 266.6,263.3 266.3,261.6 266.0,259.9 265.7,258.3 265.4,256.7 265.1,255.1 264.8,253.6 264.5,252.1 264.2,250.6 263.9,249.2 263.6,247.9 263.3,246.6 263.0,245.4 262.7,244.2 262.4,243.1 262.1,242.0 261.8,241.0 261.5,240.1 261.2,239.2 260.9,238.4 260.6,237.6 260.3,236.9 260.0,236.3 259.7,235.8" fill="#40b040" stroke="#48b048" stroke-width="0.9" stroke-linejoin="round"/>
<g fill="none" stroke="#111" stroke-width="1.7"><polyline points="509.3,25.3 499.1,25.3 499.1,196.0 509.3,196.0"/><line x1="499.1" y1="68.1" x2="509.3" y2="68.1"/><line x1="499.1" y1="110.6" x2="509.3" y2="110.6"/><line x1="499.1" y1="153.3" x2="509.3" y2="153.3"/><polyline points="509.3,239.85 499.0,239.85 499.0,324.1 509.3,324.1"/><line x1="499.0" y1="282.4" x2="509.3" y2="282.4"/></g>
<g fill="none" stroke="#111" stroke-width="1.4" stroke-linecap="butt"><line x1="51.3" y1="44.5" x2="51.3" y2="78" stroke-dasharray="3.8,3.2" stroke-dashoffset="-1.2"/><polyline points="47.7,47.8 51.3,43.6 54.9,47.8"/><polyline points="47.7,74.6 51.3,78.8 54.9,74.6"/><line x1="82.3" y1="43.5" x2="58.6" y2="53.8"/><polyline points="63.2,49.4 58.4,53.9 63.4,55.9"/><line x1="27.8" y1="96.3" x2="40.9" y2="84.8"/><polyline points="36.3,85.3 40.9,84.8 40.3,89.6"/><line x1="70" y1="225.4" x2="57" y2="237.9"/><polyline points="56.8,232.6 57,237.9 62.3,238"/><line x1="73.9" y1="330.6" x2="62.8" y2="315"/><polyline points="62.3,320.2 62.8,315 67.8,316.3"/></g>
<g fill="none" stroke="#111" stroke-width="1.55"><line x1="66.1" y1="375.7" x2="70.6" y2="375.7"/><line x1="75.5" y1="375.7" x2="80.0" y2="375.7"/><line x1="84.8" y1="375.7" x2="89.3" y2="375.7"/><line x1="94.2" y1="375.7" x2="98.7" y2="375.7"/><line x1="115.0" y1="375.7" x2="119.5" y2="375.7"/><line x1="124.4" y1="375.7" x2="128.9" y2="375.7"/><line x1="133.8" y1="375.7" x2="138.3" y2="375.7"/><line x1="143.2" y1="375.7" x2="147.7" y2="375.7"/><line x1="152.6" y1="375.7" x2="157.1" y2="375.7"/><line x1="161.9" y1="375.7" x2="166.4" y2="375.7"/><line x1="171.3" y1="375.7" x2="175.8" y2="375.7"/><line x1="180.7" y1="375.7" x2="185.2" y2="375.7"/><line x1="190.1" y1="375.7" x2="194.6" y2="375.7"/><line x1="199.5" y1="375.7" x2="204.0" y2="375.7"/><line x1="208.9" y1="375.7" x2="213.4" y2="375.7"/><line x1="218.3" y1="375.7" x2="222.8" y2="375.7"/><line x1="227.7" y1="375.7" x2="232.2" y2="375.7"/><line x1="237.1" y1="375.7" x2="241.6" y2="375.7"/><line x1="246.5" y1="375.7" x2="251.0" y2="375.7"/><line x1="255.9" y1="375.7" x2="260.4" y2="375.7"/><line x1="265.2" y1="375.7" x2="269.7" y2="375.7"/><line x1="274.6" y1="375.7" x2="279.1" y2="375.7"/><line x1="284.0" y1="375.7" x2="288.5" y2="375.7"/><line x1="293.4" y1="375.7" x2="297.9" y2="375.7"/><line x1="302.8" y1="375.7" x2="307.3" y2="375.7"/><line x1="312.2" y1="375.7" x2="316.7" y2="375.7"/><line x1="321.6" y1="375.7" x2="326.1" y2="375.7"/><line x1="331.0" y1="375.7" x2="335.5" y2="375.7"/><line x1="340.4" y1="375.7" x2="344.9" y2="375.7"/><line x1="349.8" y1="375.7" x2="354.2" y2="375.7"/><line x1="359.1" y1="375.7" x2="363.6" y2="375.7"/><line x1="368.5" y1="375.7" x2="373.0" y2="375.7"/><line x1="377.9" y1="375.7" x2="382.4" y2="375.7"/><line x1="387.3" y1="375.7" x2="391.8" y2="375.7"/><line x1="406.8" y1="375.7" x2="411.3" y2="375.7"/><line x1="416.3" y1="375.7" x2="420.8" y2="375.7"/><line x1="425.7" y1="375.7" x2="430.2" y2="375.7"/><line x1="435.2" y1="375.7" x2="439.7" y2="375.7"/><line x1="444.7" y1="375.7" x2="449.2" y2="375.7"/><line x1="454.2" y1="375.7" x2="458.7" y2="375.7"/><line x1="463.6" y1="375.7" x2="468.1" y2="375.7"/><line x1="473.1" y1="375.7" x2="477.6" y2="375.7"/><line x1="482.6" y1="375.7" x2="487.1" y2="375.7"/><line x1="55.5" y1="368.7" x2="55.5" y2="382.9"/><line x1="104.5" y1="368.7" x2="104.5" y2="383.5"/><line x1="396.5" y1="368.7" x2="396.5" y2="382.9"/><line x1="493.4" y1="369.8" x2="493.4" y2="383.4"/><polyline points="60.9,372.4 55.7,375.7 60.9,379.0"/><polyline points="99.4,372.1 104.3,375.7 99.4,379.3"/><polyline points="109.6,372.1 104.7,375.7 109.6,379.3"/><polyline points="391.9,371.7 396.3,375.7 391.9,379.7"/><polyline points="404.6,371.1 396.7,375.7 404.6,380.3"/><polyline points="487.8,373.1 493.2,375.7 487.8,378.3"/></g>
<text transform="matrix(22.438,0,0,19.734,370.68,18.68)" style="font-family:'Liberation Sans',Arial,sans-serif;font-size:1px" fill="#111" stroke="#111" stroke-width="0.0166" stroke-linejoin="round">Angle [deg.]</text>
<text transform="matrix(22.558,0,0,21.436,399.77,225.22)" style="font-family:'Liberation Sans',Arial,sans-serif;font-size:1px" fill="#111" stroke="#111" stroke-width="0.0159" stroke-linejoin="round">Flux [wb]</text>
<text transform="matrix(22.425,0,0,20.691,378.11,359.98)" style="font-family:'Liberation Sans',Arial,sans-serif;font-size:1px" fill="#111" stroke="#111" stroke-width="0.0162" stroke-linejoin="round">[500ms/div]</text>
<text transform="matrix(15.078,0,0,15.106,34.55,399.13)" style="font-family:'Liberation Sans',Arial,sans-serif;font-size:1px" fill="#111" >Starting algorithm</text>
<text transform="matrix(15.041,0,0,14.787,169.25,399.19)" style="font-family:'Liberation Sans',Arial,sans-serif;font-size:1px" fill="#111" >Starting the motor to 100 r/min</text>
<text transform="matrix(14.981,0,0,14.054,410.30,399.36)" style="font-family:'Liberation Sans',Arial,sans-serif;font-size:1px" fill="#111" >at 100 r/min</text>
<text transform="matrix(19.434,0,0,20.282,514.07,31.35)" style="font-family:'Liberation Sans',Arial,sans-serif;font-size:1px" fill="#111" stroke="#111" stroke-width="0.0151" stroke-linejoin="round">360</text>
<text transform="matrix(19.873,0,0,19.859,514.36,74.15)" style="font-family:'Liberation Sans',Arial,sans-serif;font-size:1px" fill="#111" stroke="#111" stroke-width="0.0151" stroke-linejoin="round">270</text>
<text transform="matrix(18.516,0,0,19.859,515.97,115.55)" style="font-family:'Liberation Sans',Arial,sans-serif;font-size:1px" fill="#111" stroke="#111" stroke-width="0.0156" stroke-linejoin="round">180</text>
<text transform="matrix(20.196,0,0,19.718,514.74,159.35)" style="font-family:'Liberation Sans',Arial,sans-serif;font-size:1px" fill="#111" stroke="#111" stroke-width="0.0150" stroke-linejoin="round">90</text>
<text transform="matrix(22.500,0,0,22.113,518.15,201.33)" style="font-family:'Liberation Sans',Arial,sans-serif;font-size:1px" fill="#111" stroke="#111" stroke-width="0.0134" stroke-linejoin="round">0</text>
<text transform="matrix(18.077,0,0,19.155,518.73,245.56)" style="font-family:'Liberation Sans',Arial,sans-serif;font-size:1px" fill="#111" stroke="#111" stroke-width="0.0161" stroke-linejoin="round">0.1</text>
<text transform="matrix(19.771,0,0,19.155,518.26,286.86)" style="font-family:'Liberation Sans',Arial,sans-serif;font-size:1px" fill="#111" stroke="#111" stroke-width="0.0154" stroke-linejoin="round">0.0</text>
<text transform="matrix(18.160,0,0,19.155,513.82,329.36)" style="font-family:'Liberation Sans',Arial,sans-serif;font-size:1px" fill="#111" stroke="#111" stroke-width="0.0161" stroke-linejoin="round">-0.1</text>
<text transform="matrix(22.598,0,0,21.479,11.60,64.86)" style="font-family:'Liberation Sans',Arial,sans-serif;font-size:1px" fill="#111" stroke="#111" stroke-width="0.0204" stroke-linejoin="round">90</text>
<circle cx="40.1" cy="51.7" r="1.7" fill="none" stroke="#111" stroke-width="0.9"/>
<text transform="matrix(32.381,0,0,26.338,85.03,51.69)" style="font-family:'Liberation Serif','Times New Roman',serif;font-style:italic;font-size:1px" fill="#111" stroke="#111" stroke-width="0.0034" stroke-linejoin="round">θ</text>
<text transform="matrix(30.952,0,0,27.465,11.00,108.48)" style="font-family:'Liberation Serif','Times New Roman',serif;font-style:italic;font-size:1px" fill="#111" stroke="#111" stroke-width="0.0034" stroke-linejoin="round">θ</text>
<text transform="matrix(28.889,0,0,25.217,73.74,221.65)" style="font-family:'Liberation Serif','Times New Roman',serif;font-style:italic;font-size:1px" fill="#111" stroke="#111" stroke-width="0.0111" stroke-linejoin="round">x</text>
<text transform="matrix(26.078,0,0,20.208,88.42,224.90)" style="font-family:'Liberation Serif','Times New Roman',serif;font-style:italic;font-size:1px" fill="#111" >α</text>
<text transform="matrix(26.444,0,0,23.478,74.71,343.85)" style="font-family:'Liberation Serif','Times New Roman',serif;font-style:italic;font-size:1px" fill="#111" stroke="#111" stroke-width="0.0120" stroke-linejoin="round">x</text>
<text transform="matrix(21.923,0,0,20.330,89.44,349.63)" style="font-family:'Liberation Serif','Times New Roman',serif;font-style:italic;font-size:1px" fill="#111" >β</text>
<g fill="none" stroke="#111" stroke-width="1.35" stroke-linecap="round"><path d="M89.9,31.1 Q92.8,29.1 95.8,28.4 Q98.8,29.1 101.9,31.1"/><path d="M76.1,205.8 Q78.8,204.0 81.4,203.5 Q84.0,204.0 86.6,205.8"/><path d="M76.5,329.5 Q79.0,327.7 81.6,327.3 Q84.2,327.7 86.7,329.5"/></g>
</svg>
</body></html>
